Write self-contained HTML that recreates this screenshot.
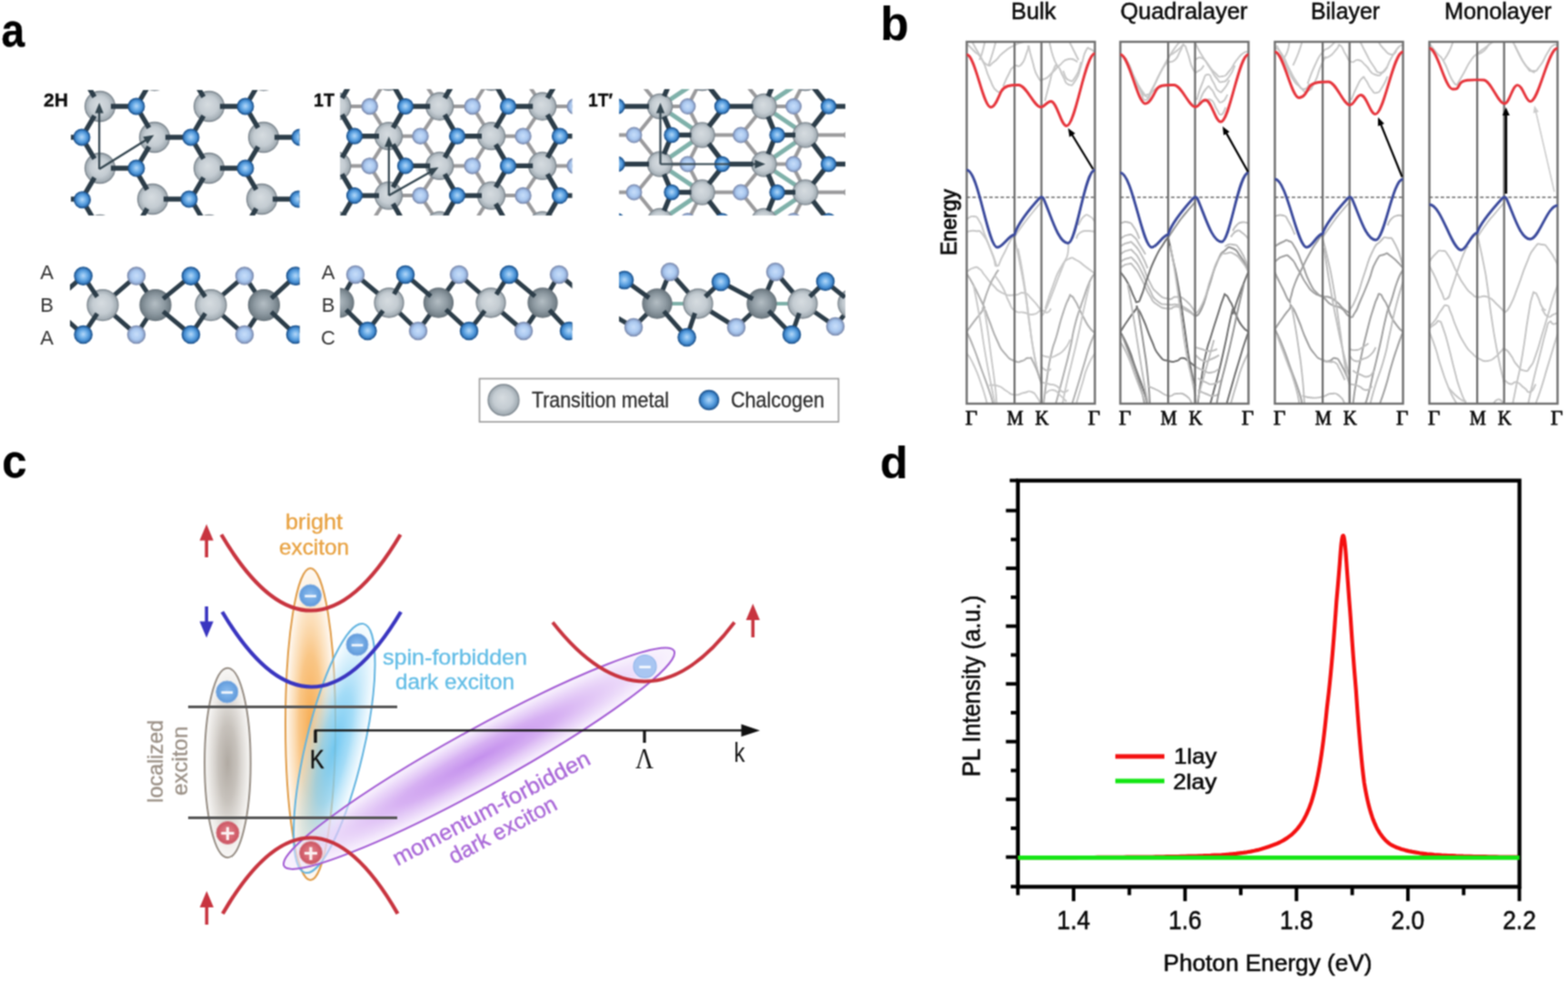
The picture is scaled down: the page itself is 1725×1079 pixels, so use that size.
<!DOCTYPE html>
<html lang="en">
<head>
<meta charset="utf-8">
<title>Figure: TMD crystal structures, band structure, excitons and PL</title>
<style>
html,body{margin:0;padding:0;background:#fff;}
body{width:1725px;height:1079px;overflow:hidden;font-family:"Liberation Sans",sans-serif;}
svg{display:block;}
svg text{font-family:"Liberation Sans",sans-serif;}
svg text.serif{font-family:"Liberation Serif",serif;}
</style>
</head>
<body>
<svg width="1725" height="1079" viewBox="0 0 1725 1079">
<defs>
<filter id="soft" filterUnits="userSpaceOnUse" x="0" y="0" width="1725" height="1079" color-interpolation-filters="sRGB"><feConvolveMatrix order="3" kernelMatrix="0.0625 0.125 0.0625 0.125 0.25 0.125 0.0625 0.125 0.0625" divisor="1" edgeMode="duplicate" preserveAlpha="true"/></filter>
<radialGradient id="gM" cx="50%" cy="50%" r="50%" fx="45%" fy="42%">
<stop offset="0" stop-color="#d6dce0"/><stop offset="0.62" stop-color="#c4ccd2"/><stop offset="0.9" stop-color="#a6b0b7"/><stop offset="1" stop-color="#949ea6"/></radialGradient>
<radialGradient id="gMd" cx="50%" cy="50%" r="50%" fx="48%" fy="45%">
<stop offset="0" stop-color="#b4bec4"/><stop offset="0.6" stop-color="#8e9aa2"/><stop offset="1" stop-color="#6d7a82"/></radialGradient>
<radialGradient id="gD" cx="50%" cy="50%" r="50%" fx="50%" fy="48%">
<stop offset="0" stop-color="#b6d8f9"/><stop offset="0.35" stop-color="#7db8ec"/><stop offset="0.7" stop-color="#4a92d6"/><stop offset="1" stop-color="#245f9e"/></radialGradient>
<radialGradient id="gL" cx="50%" cy="50%" r="50%" fx="50%" fy="48%">
<stop offset="0" stop-color="#c8defa"/><stop offset="0.6" stop-color="#abc9f0"/><stop offset="1" stop-color="#8399c2"/></radialGradient>
<clipPath id="c2h"><rect x="78" y="99" width="251.5" height="138"/></clipPath>
<clipPath id="c1t"><rect x="374" y="98" width="255.5" height="139"/></clipPath>
<clipPath id="c1tp"><rect x="681" y="98" width="249" height="139"/></clipPath>
<clipPath id="s2h"><rect x="77" y="285" width="252.5" height="100"/></clipPath>
<clipPath id="s1t"><rect x="374" y="285" width="255.5" height="100"/></clipPath>
<clipPath id="s1tp"><rect x="681" y="285" width="249" height="100"/></clipPath>
<marker id="arA" viewBox="0 0 10 10" refX="8" refY="5" markerWidth="5" markerHeight="5" orient="auto"><path d="M0 0L10 5L0 10z" fill="#33454f"/></marker>
<clipPath id="cb0"><rect x="1063.5" y="46" width="141" height="398"/></clipPath><clipPath id="cb1"><rect x="1232.5" y="46" width="141" height="398"/></clipPath><clipPath id="cb2"><rect x="1402.5" y="46" width="141" height="398"/></clipPath><clipPath id="cb3"><rect x="1572.5" y="46" width="141" height="398"/></clipPath>
<radialGradient id="gOr" cx="50%" cy="50%" r="50%">
<stop offset="0" stop-color="#f6a84a" stop-opacity="0.95"/><stop offset="0.45" stop-color="#f8b868" stop-opacity="0.8"/><stop offset="0.8" stop-color="#fbd7a8" stop-opacity="0.55"/><stop offset="1" stop-color="#fdeedd" stop-opacity="0.35"/></radialGradient>
<radialGradient id="gCy" cx="50%" cy="50%" r="50%">
<stop offset="0" stop-color="#62c2f0" stop-opacity="0.9"/><stop offset="0.45" stop-color="#85d0f4" stop-opacity="0.75"/><stop offset="0.8" stop-color="#bfe6fa" stop-opacity="0.5"/><stop offset="1" stop-color="#e6f5fd" stop-opacity="0.3"/></radialGradient>
<radialGradient id="gPu" cx="50%" cy="50%" r="50%">
<stop offset="0" stop-color="#c18aec" stop-opacity="0.95"/><stop offset="0.4" stop-color="#cfa2f0" stop-opacity="0.85"/><stop offset="0.75" stop-color="#e4cbf7" stop-opacity="0.7"/><stop offset="1" stop-color="#f3e8fc" stop-opacity="0.5"/></radialGradient>
<radialGradient id="gGr" cx="50%" cy="50%" r="50%">
<stop offset="0" stop-color="#aca59d" stop-opacity="0.95"/><stop offset="0.4" stop-color="#bdb7b0" stop-opacity="0.85"/><stop offset="0.75" stop-color="#dcd8d3" stop-opacity="0.7"/><stop offset="1" stop-color="#f1efec" stop-opacity="0.5"/></radialGradient>
<radialGradient id="gEl" cx="50%" cy="50%" r="50%" fx="50%" fy="45%">
<stop offset="0" stop-color="#8cbcee"/><stop offset="0.7" stop-color="#6ea6e2"/><stop offset="1" stop-color="#5f97d8"/></radialGradient>
<radialGradient id="gHo" cx="50%" cy="50%" r="50%" fx="50%" fy="45%">
<stop offset="0" stop-color="#e08890"/><stop offset="0.7" stop-color="#d4636f"/><stop offset="1" stop-color="#c8525f"/></radialGradient>
</defs>
<g filter="url(#soft)">
<rect x="0" y="0" width="1725" height="1079" fill="#ffffff"/>
<text x="1.4" y="50.6" font-size="51.5" font-weight="bold" fill="#000" stroke="#000" stroke-width="0.3" textLength="25.6" lengthAdjust="spacingAndGlyphs">a</text>
<g clip-path="url(#c2h)">
<circle cx="50" cy="83" r="16.5" fill="url(#gM)" stroke="#808a92" stroke-width="1.3"/><circle cx="170" cy="83" r="16.5" fill="url(#gM)" stroke="#808a92" stroke-width="1.3"/><circle cx="290" cy="83" r="16.5" fill="url(#gM)" stroke="#808a92" stroke-width="1.3"/><circle cx="410" cy="83" r="16.5" fill="url(#gM)" stroke="#808a92" stroke-width="1.3"/><circle cx="-10" cy="117" r="16.5" fill="url(#gM)" stroke="#808a92" stroke-width="1.3"/><circle cx="110" cy="117" r="16.5" fill="url(#gM)" stroke="#808a92" stroke-width="1.3"/><circle cx="230" cy="117" r="16.5" fill="url(#gM)" stroke="#808a92" stroke-width="1.3"/><circle cx="350" cy="117" r="16.5" fill="url(#gM)" stroke="#808a92" stroke-width="1.3"/><circle cx="50" cy="151" r="16.5" fill="url(#gM)" stroke="#808a92" stroke-width="1.3"/><circle cx="170" cy="151" r="16.5" fill="url(#gM)" stroke="#808a92" stroke-width="1.3"/><circle cx="290" cy="151" r="16.5" fill="url(#gM)" stroke="#808a92" stroke-width="1.3"/><circle cx="410" cy="151" r="16.5" fill="url(#gM)" stroke="#808a92" stroke-width="1.3"/><circle cx="-10" cy="185" r="16.5" fill="url(#gM)" stroke="#808a92" stroke-width="1.3"/><circle cx="110" cy="185" r="16.5" fill="url(#gM)" stroke="#808a92" stroke-width="1.3"/><circle cx="230" cy="185" r="16.5" fill="url(#gM)" stroke="#808a92" stroke-width="1.3"/><circle cx="350" cy="185" r="16.5" fill="url(#gM)" stroke="#808a92" stroke-width="1.3"/><circle cx="50" cy="219" r="16.5" fill="url(#gM)" stroke="#808a92" stroke-width="1.3"/><circle cx="168" cy="219" r="16.5" fill="url(#gM)" stroke="#808a92" stroke-width="1.3"/><circle cx="288" cy="219" r="16.5" fill="url(#gM)" stroke="#808a92" stroke-width="1.3"/><circle cx="408" cy="219" r="16.5" fill="url(#gM)" stroke="#808a92" stroke-width="1.3"/><circle cx="-10" cy="253" r="16.5" fill="url(#gM)" stroke="#808a92" stroke-width="1.3"/><circle cx="110" cy="253" r="16.5" fill="url(#gM)" stroke="#808a92" stroke-width="1.3"/><circle cx="230" cy="253" r="16.5" fill="url(#gM)" stroke="#808a92" stroke-width="1.3"/><circle cx="350" cy="253" r="16.5" fill="url(#gM)" stroke="#808a92" stroke-width="1.3"/>
<line x1="90" y1="83" x2="62" y2="83" stroke="#2c3d49" stroke-width="5.3" /><line x1="30" y1="49" x2="43.9" y2="72.7" stroke="#2c3d49" stroke-width="5.3" /><line x1="30" y1="117" x2="43.9" y2="93.3" stroke="#2c3d49" stroke-width="5.3" /><line x1="210" y1="83" x2="182" y2="83" stroke="#2c3d49" stroke-width="5.3" /><line x1="150" y1="49" x2="163.9" y2="72.7" stroke="#2c3d49" stroke-width="5.3" /><line x1="150" y1="117" x2="163.9" y2="93.3" stroke="#2c3d49" stroke-width="5.3" /><line x1="330" y1="83" x2="302" y2="83" stroke="#2c3d49" stroke-width="5.3" /><line x1="270" y1="49" x2="283.9" y2="72.7" stroke="#2c3d49" stroke-width="5.3" /><line x1="270" y1="117" x2="283.9" y2="93.3" stroke="#2c3d49" stroke-width="5.3" /><line x1="450" y1="83" x2="422" y2="83" stroke="#2c3d49" stroke-width="5.3" /><line x1="390" y1="49" x2="403.9" y2="72.7" stroke="#2c3d49" stroke-width="5.3" /><line x1="390" y1="117" x2="403.9" y2="93.3" stroke="#2c3d49" stroke-width="5.3" /><line x1="30" y1="117" x2="2" y2="117" stroke="#2c3d49" stroke-width="5.3" /><line x1="-30" y1="83" x2="-16.1" y2="106.7" stroke="#2c3d49" stroke-width="5.3" /><line x1="-30" y1="151" x2="-16.1" y2="127.3" stroke="#2c3d49" stroke-width="5.3" /><line x1="150" y1="117" x2="122" y2="117" stroke="#2c3d49" stroke-width="5.3" /><line x1="90" y1="83" x2="103.9" y2="106.7" stroke="#2c3d49" stroke-width="5.3" /><line x1="90" y1="151" x2="103.9" y2="127.3" stroke="#2c3d49" stroke-width="5.3" /><line x1="270" y1="117" x2="242" y2="117" stroke="#2c3d49" stroke-width="5.3" /><line x1="210" y1="83" x2="223.9" y2="106.7" stroke="#2c3d49" stroke-width="5.3" /><line x1="210" y1="151" x2="223.9" y2="127.3" stroke="#2c3d49" stroke-width="5.3" /><line x1="390" y1="117" x2="362" y2="117" stroke="#2c3d49" stroke-width="5.3" /><line x1="330" y1="83" x2="343.9" y2="106.7" stroke="#2c3d49" stroke-width="5.3" /><line x1="330" y1="151" x2="343.9" y2="127.3" stroke="#2c3d49" stroke-width="5.3" /><line x1="90" y1="151" x2="62" y2="151" stroke="#2c3d49" stroke-width="5.3" /><line x1="30" y1="117" x2="43.9" y2="140.7" stroke="#2c3d49" stroke-width="5.3" /><line x1="30" y1="185" x2="43.9" y2="161.3" stroke="#2c3d49" stroke-width="5.3" /><line x1="210" y1="151" x2="182" y2="151" stroke="#2c3d49" stroke-width="5.3" /><line x1="150" y1="117" x2="163.9" y2="140.7" stroke="#2c3d49" stroke-width="5.3" /><line x1="150" y1="185" x2="163.9" y2="161.3" stroke="#2c3d49" stroke-width="5.3" /><line x1="330" y1="151" x2="302" y2="151" stroke="#2c3d49" stroke-width="5.3" /><line x1="270" y1="117" x2="283.9" y2="140.7" stroke="#2c3d49" stroke-width="5.3" /><line x1="270" y1="185" x2="283.9" y2="161.3" stroke="#2c3d49" stroke-width="5.3" /><line x1="450" y1="151" x2="422" y2="151" stroke="#2c3d49" stroke-width="5.3" /><line x1="390" y1="117" x2="403.9" y2="140.7" stroke="#2c3d49" stroke-width="5.3" /><line x1="390" y1="185" x2="403.9" y2="161.3" stroke="#2c3d49" stroke-width="5.3" /><line x1="30" y1="185" x2="2" y2="185" stroke="#2c3d49" stroke-width="5.3" /><line x1="-30" y1="151" x2="-16.1" y2="174.7" stroke="#2c3d49" stroke-width="5.3" /><line x1="-30" y1="219" x2="-16.1" y2="195.3" stroke="#2c3d49" stroke-width="5.3" /><line x1="150" y1="185" x2="122" y2="185" stroke="#2c3d49" stroke-width="5.3" /><line x1="90" y1="151" x2="103.9" y2="174.7" stroke="#2c3d49" stroke-width="5.3" /><line x1="90" y1="219" x2="103.9" y2="195.3" stroke="#2c3d49" stroke-width="5.3" /><line x1="270" y1="185" x2="242" y2="185" stroke="#2c3d49" stroke-width="5.3" /><line x1="210" y1="151" x2="223.9" y2="174.7" stroke="#2c3d49" stroke-width="5.3" /><line x1="210" y1="219" x2="223.9" y2="195.3" stroke="#2c3d49" stroke-width="5.3" /><line x1="390" y1="185" x2="362" y2="185" stroke="#2c3d49" stroke-width="5.3" /><line x1="330" y1="151" x2="343.9" y2="174.7" stroke="#2c3d49" stroke-width="5.3" /><line x1="330" y1="219" x2="343.9" y2="195.3" stroke="#2c3d49" stroke-width="5.3" /><line x1="90" y1="219" x2="62" y2="219" stroke="#2c3d49" stroke-width="5.3" /><line x1="30" y1="185" x2="43.9" y2="208.7" stroke="#2c3d49" stroke-width="5.3" /><line x1="30" y1="253" x2="43.9" y2="229.3" stroke="#2c3d49" stroke-width="5.3" /><line x1="208" y1="219" x2="180" y2="219" stroke="#2c3d49" stroke-width="5.3" /><line x1="148" y1="185" x2="161.9" y2="208.7" stroke="#2c3d49" stroke-width="5.3" /><line x1="148" y1="253" x2="161.9" y2="229.3" stroke="#2c3d49" stroke-width="5.3" /><line x1="328" y1="219" x2="300" y2="219" stroke="#2c3d49" stroke-width="5.3" /><line x1="268" y1="185" x2="281.9" y2="208.7" stroke="#2c3d49" stroke-width="5.3" /><line x1="268" y1="253" x2="281.9" y2="229.3" stroke="#2c3d49" stroke-width="5.3" /><line x1="448" y1="219" x2="420" y2="219" stroke="#2c3d49" stroke-width="5.3" /><line x1="388" y1="185" x2="401.9" y2="208.7" stroke="#2c3d49" stroke-width="5.3" /><line x1="388" y1="253" x2="401.9" y2="229.3" stroke="#2c3d49" stroke-width="5.3" /><line x1="30" y1="253" x2="2" y2="253" stroke="#2c3d49" stroke-width="5.3" /><line x1="-30" y1="219" x2="-16.1" y2="242.7" stroke="#2c3d49" stroke-width="5.3" /><line x1="-30" y1="287" x2="-16.1" y2="263.3" stroke="#2c3d49" stroke-width="5.3" /><line x1="150" y1="253" x2="122" y2="253" stroke="#2c3d49" stroke-width="5.3" /><line x1="90" y1="219" x2="103.9" y2="242.7" stroke="#2c3d49" stroke-width="5.3" /><line x1="90" y1="287" x2="103.9" y2="263.3" stroke="#2c3d49" stroke-width="5.3" /><line x1="270" y1="253" x2="242" y2="253" stroke="#2c3d49" stroke-width="5.3" /><line x1="210" y1="219" x2="223.9" y2="242.7" stroke="#2c3d49" stroke-width="5.3" /><line x1="210" y1="287" x2="223.9" y2="263.3" stroke="#2c3d49" stroke-width="5.3" /><line x1="390" y1="253" x2="362" y2="253" stroke="#2c3d49" stroke-width="5.3" /><line x1="330" y1="219" x2="343.9" y2="242.7" stroke="#2c3d49" stroke-width="5.3" /><line x1="330" y1="287" x2="343.9" y2="263.3" stroke="#2c3d49" stroke-width="5.3" />
<circle cx="90" cy="83" r="8.9" fill="url(#gD)" stroke="#1f5690" stroke-width="1.2"/><circle cx="210" cy="83" r="8.9" fill="url(#gD)" stroke="#1f5690" stroke-width="1.2"/><circle cx="330" cy="83" r="8.9" fill="url(#gD)" stroke="#1f5690" stroke-width="1.2"/><circle cx="450" cy="83" r="8.9" fill="url(#gD)" stroke="#1f5690" stroke-width="1.2"/><circle cx="30" cy="117" r="8.9" fill="url(#gD)" stroke="#1f5690" stroke-width="1.2"/><circle cx="150" cy="117" r="8.9" fill="url(#gD)" stroke="#1f5690" stroke-width="1.2"/><circle cx="270" cy="117" r="8.9" fill="url(#gD)" stroke="#1f5690" stroke-width="1.2"/><circle cx="390" cy="117" r="8.9" fill="url(#gD)" stroke="#1f5690" stroke-width="1.2"/><circle cx="90" cy="151" r="8.9" fill="url(#gD)" stroke="#1f5690" stroke-width="1.2"/><circle cx="210" cy="151" r="8.9" fill="url(#gD)" stroke="#1f5690" stroke-width="1.2"/><circle cx="330" cy="151" r="8.9" fill="url(#gD)" stroke="#1f5690" stroke-width="1.2"/><circle cx="450" cy="151" r="8.9" fill="url(#gD)" stroke="#1f5690" stroke-width="1.2"/><circle cx="30" cy="185" r="8.9" fill="url(#gD)" stroke="#1f5690" stroke-width="1.2"/><circle cx="150" cy="185" r="8.9" fill="url(#gD)" stroke="#1f5690" stroke-width="1.2"/><circle cx="270" cy="185" r="8.9" fill="url(#gD)" stroke="#1f5690" stroke-width="1.2"/><circle cx="390" cy="185" r="8.9" fill="url(#gD)" stroke="#1f5690" stroke-width="1.2"/><circle cx="90.5" cy="219.8" r="8.9" fill="url(#gD)" stroke="#1f5690" stroke-width="1.2"/><circle cx="208" cy="219" r="8.9" fill="url(#gD)" stroke="#1f5690" stroke-width="1.2"/><circle cx="328" cy="219" r="8.9" fill="url(#gD)" stroke="#1f5690" stroke-width="1.2"/><circle cx="448" cy="219" r="8.9" fill="url(#gD)" stroke="#1f5690" stroke-width="1.2"/><circle cx="30" cy="253" r="8.9" fill="url(#gD)" stroke="#1f5690" stroke-width="1.2"/><circle cx="150" cy="253" r="8.9" fill="url(#gD)" stroke="#1f5690" stroke-width="1.2"/><circle cx="270" cy="253" r="8.9" fill="url(#gD)" stroke="#1f5690" stroke-width="1.2"/><circle cx="390" cy="253" r="8.9" fill="url(#gD)" stroke="#1f5690" stroke-width="1.2"/>
<line x1="109.2" y1="186" x2="109.2" y2="122.5" stroke="#33454f" stroke-width="2.2" /><path d="M109.2 113L113.9 124.5L104.5 124.5z" fill="#33454f"/>
<line x1="109.2" y1="186" x2="161.4" y2="153.5" stroke="#33454f" stroke-width="2.2" /><path d="M169.5 148.5L162.2 158.6L157.3 150.6z" fill="#33454f"/>
</g>
<text x="48" y="117" font-size="20" font-weight="bold" fill="#0a0a0a" stroke="#0a0a0a" stroke-width="0.3" textLength="27" lengthAdjust="spacingAndGlyphs">2H</text>
<g clip-path="url(#c1t)">
<line x1="349.5" y1="84.3" x2="314.5" y2="84.3" stroke="#9a9a9c" stroke-width="4" /><line x1="349.5" y1="84.3" x2="371" y2="51.6" stroke="#9a9a9c" stroke-width="4" /><line x1="349.5" y1="84.3" x2="371" y2="117" stroke="#9a9a9c" stroke-width="4" /><line x1="462.5" y1="84.3" x2="427.5" y2="84.3" stroke="#9a9a9c" stroke-width="4" /><line x1="462.5" y1="84.3" x2="484" y2="51.6" stroke="#9a9a9c" stroke-width="4" /><line x1="462.5" y1="84.3" x2="484" y2="117" stroke="#9a9a9c" stroke-width="4" /><line x1="575.5" y1="84.3" x2="540.5" y2="84.3" stroke="#9a9a9c" stroke-width="4" /><line x1="575.5" y1="84.3" x2="597" y2="51.6" stroke="#9a9a9c" stroke-width="4" /><line x1="575.5" y1="84.3" x2="597" y2="117" stroke="#9a9a9c" stroke-width="4" /><line x1="688.5" y1="84.3" x2="653.5" y2="84.3" stroke="#9a9a9c" stroke-width="4" /><line x1="688.5" y1="84.3" x2="710" y2="51.6" stroke="#9a9a9c" stroke-width="4" /><line x1="688.5" y1="84.3" x2="710" y2="117" stroke="#9a9a9c" stroke-width="4" /><line x1="801.5" y1="84.3" x2="766.5" y2="84.3" stroke="#9a9a9c" stroke-width="4" /><line x1="801.5" y1="84.3" x2="823" y2="51.6" stroke="#9a9a9c" stroke-width="4" /><line x1="801.5" y1="84.3" x2="823" y2="117" stroke="#9a9a9c" stroke-width="4" /><line x1="293.7" y1="117" x2="257.7" y2="117" stroke="#9a9a9c" stroke-width="4" /><line x1="293.7" y1="117" x2="314.2" y2="84.3" stroke="#9a9a9c" stroke-width="4" /><line x1="293.7" y1="117" x2="314.2" y2="149.7" stroke="#9a9a9c" stroke-width="4" /><line x1="406.7" y1="117" x2="370.7" y2="117" stroke="#9a9a9c" stroke-width="4" /><line x1="406.7" y1="117" x2="427.2" y2="84.3" stroke="#9a9a9c" stroke-width="4" /><line x1="406.7" y1="117" x2="427.2" y2="149.7" stroke="#9a9a9c" stroke-width="4" /><line x1="519.7" y1="117" x2="483.7" y2="117" stroke="#9a9a9c" stroke-width="4" /><line x1="519.7" y1="117" x2="540.2" y2="84.3" stroke="#9a9a9c" stroke-width="4" /><line x1="519.7" y1="117" x2="540.2" y2="149.7" stroke="#9a9a9c" stroke-width="4" /><line x1="632.7" y1="117" x2="596.7" y2="117" stroke="#9a9a9c" stroke-width="4" /><line x1="632.7" y1="117" x2="653.2" y2="84.3" stroke="#9a9a9c" stroke-width="4" /><line x1="632.7" y1="117" x2="653.2" y2="149.7" stroke="#9a9a9c" stroke-width="4" /><line x1="745.7" y1="117" x2="709.7" y2="117" stroke="#9a9a9c" stroke-width="4" /><line x1="745.7" y1="117" x2="766.2" y2="84.3" stroke="#9a9a9c" stroke-width="4" /><line x1="745.7" y1="117" x2="766.2" y2="149.7" stroke="#9a9a9c" stroke-width="4" /><line x1="349.5" y1="149.7" x2="314.5" y2="149.7" stroke="#9a9a9c" stroke-width="4" /><line x1="349.5" y1="149.7" x2="371" y2="117" stroke="#9a9a9c" stroke-width="4" /><line x1="349.5" y1="149.7" x2="371" y2="182.4" stroke="#9a9a9c" stroke-width="4" /><line x1="462.5" y1="149.7" x2="427.5" y2="149.7" stroke="#9a9a9c" stroke-width="4" /><line x1="462.5" y1="149.7" x2="484" y2="117" stroke="#9a9a9c" stroke-width="4" /><line x1="462.5" y1="149.7" x2="484" y2="182.4" stroke="#9a9a9c" stroke-width="4" /><line x1="575.5" y1="149.7" x2="540.5" y2="149.7" stroke="#9a9a9c" stroke-width="4" /><line x1="575.5" y1="149.7" x2="597" y2="117" stroke="#9a9a9c" stroke-width="4" /><line x1="575.5" y1="149.7" x2="597" y2="182.4" stroke="#9a9a9c" stroke-width="4" /><line x1="688.5" y1="149.7" x2="653.5" y2="149.7" stroke="#9a9a9c" stroke-width="4" /><line x1="688.5" y1="149.7" x2="710" y2="117" stroke="#9a9a9c" stroke-width="4" /><line x1="688.5" y1="149.7" x2="710" y2="182.4" stroke="#9a9a9c" stroke-width="4" /><line x1="801.5" y1="149.7" x2="766.5" y2="149.7" stroke="#9a9a9c" stroke-width="4" /><line x1="801.5" y1="149.7" x2="823" y2="117" stroke="#9a9a9c" stroke-width="4" /><line x1="801.5" y1="149.7" x2="823" y2="182.4" stroke="#9a9a9c" stroke-width="4" /><line x1="293.7" y1="182.4" x2="257.7" y2="182.4" stroke="#9a9a9c" stroke-width="4" /><line x1="293.7" y1="182.4" x2="314.2" y2="149.7" stroke="#9a9a9c" stroke-width="4" /><line x1="293.7" y1="182.4" x2="314.2" y2="215.1" stroke="#9a9a9c" stroke-width="4" /><line x1="406.7" y1="182.4" x2="370.7" y2="182.4" stroke="#9a9a9c" stroke-width="4" /><line x1="406.7" y1="182.4" x2="427.2" y2="149.7" stroke="#9a9a9c" stroke-width="4" /><line x1="406.7" y1="182.4" x2="427.2" y2="215.1" stroke="#9a9a9c" stroke-width="4" /><line x1="519.7" y1="182.4" x2="483.7" y2="182.4" stroke="#9a9a9c" stroke-width="4" /><line x1="519.7" y1="182.4" x2="540.2" y2="149.7" stroke="#9a9a9c" stroke-width="4" /><line x1="519.7" y1="182.4" x2="540.2" y2="215.1" stroke="#9a9a9c" stroke-width="4" /><line x1="632.7" y1="182.4" x2="596.7" y2="182.4" stroke="#9a9a9c" stroke-width="4" /><line x1="632.7" y1="182.4" x2="653.2" y2="149.7" stroke="#9a9a9c" stroke-width="4" /><line x1="632.7" y1="182.4" x2="653.2" y2="215.1" stroke="#9a9a9c" stroke-width="4" /><line x1="745.7" y1="182.4" x2="709.7" y2="182.4" stroke="#9a9a9c" stroke-width="4" /><line x1="745.7" y1="182.4" x2="766.2" y2="149.7" stroke="#9a9a9c" stroke-width="4" /><line x1="745.7" y1="182.4" x2="766.2" y2="215.1" stroke="#9a9a9c" stroke-width="4" /><line x1="349.5" y1="215.1" x2="314.5" y2="215.1" stroke="#9a9a9c" stroke-width="4" /><line x1="349.5" y1="215.1" x2="371" y2="182.4" stroke="#9a9a9c" stroke-width="4" /><line x1="349.5" y1="215.1" x2="371" y2="247.8" stroke="#9a9a9c" stroke-width="4" /><line x1="462.5" y1="215.1" x2="427.5" y2="215.1" stroke="#9a9a9c" stroke-width="4" /><line x1="462.5" y1="215.1" x2="484" y2="182.4" stroke="#9a9a9c" stroke-width="4" /><line x1="462.5" y1="215.1" x2="484" y2="247.8" stroke="#9a9a9c" stroke-width="4" /><line x1="575.5" y1="215.1" x2="540.5" y2="215.1" stroke="#9a9a9c" stroke-width="4" /><line x1="575.5" y1="215.1" x2="597" y2="182.4" stroke="#9a9a9c" stroke-width="4" /><line x1="575.5" y1="215.1" x2="597" y2="247.8" stroke="#9a9a9c" stroke-width="4" /><line x1="688.5" y1="215.1" x2="653.5" y2="215.1" stroke="#9a9a9c" stroke-width="4" /><line x1="688.5" y1="215.1" x2="710" y2="182.4" stroke="#9a9a9c" stroke-width="4" /><line x1="688.5" y1="215.1" x2="710" y2="247.8" stroke="#9a9a9c" stroke-width="4" /><line x1="801.5" y1="215.1" x2="766.5" y2="215.1" stroke="#9a9a9c" stroke-width="4" /><line x1="801.5" y1="215.1" x2="823" y2="182.4" stroke="#9a9a9c" stroke-width="4" /><line x1="801.5" y1="215.1" x2="823" y2="247.8" stroke="#9a9a9c" stroke-width="4" /><line x1="293.7" y1="247.8" x2="257.7" y2="247.8" stroke="#9a9a9c" stroke-width="4" /><line x1="293.7" y1="247.8" x2="314.2" y2="215.1" stroke="#9a9a9c" stroke-width="4" /><line x1="293.7" y1="247.8" x2="314.2" y2="280.5" stroke="#9a9a9c" stroke-width="4" /><line x1="406.7" y1="247.8" x2="370.7" y2="247.8" stroke="#9a9a9c" stroke-width="4" /><line x1="406.7" y1="247.8" x2="427.2" y2="215.1" stroke="#9a9a9c" stroke-width="4" /><line x1="406.7" y1="247.8" x2="427.2" y2="280.5" stroke="#9a9a9c" stroke-width="4" /><line x1="519.7" y1="247.8" x2="483.7" y2="247.8" stroke="#9a9a9c" stroke-width="4" /><line x1="519.7" y1="247.8" x2="540.2" y2="215.1" stroke="#9a9a9c" stroke-width="4" /><line x1="519.7" y1="247.8" x2="540.2" y2="280.5" stroke="#9a9a9c" stroke-width="4" /><line x1="632.7" y1="247.8" x2="596.7" y2="247.8" stroke="#9a9a9c" stroke-width="4" /><line x1="632.7" y1="247.8" x2="653.2" y2="215.1" stroke="#9a9a9c" stroke-width="4" /><line x1="632.7" y1="247.8" x2="653.2" y2="280.5" stroke="#9a9a9c" stroke-width="4" /><line x1="745.7" y1="247.8" x2="709.7" y2="247.8" stroke="#9a9a9c" stroke-width="4" /><line x1="745.7" y1="247.8" x2="766.2" y2="215.1" stroke="#9a9a9c" stroke-width="4" /><line x1="745.7" y1="247.8" x2="766.2" y2="280.5" stroke="#9a9a9c" stroke-width="4" />
<circle cx="349.5" cy="84.3" r="8.6" fill="url(#gL)" stroke="#7f8fb2" stroke-width="1.3"/><circle cx="462.5" cy="84.3" r="8.6" fill="url(#gL)" stroke="#7f8fb2" stroke-width="1.3"/><circle cx="575.5" cy="84.3" r="8.6" fill="url(#gL)" stroke="#7f8fb2" stroke-width="1.3"/><circle cx="688.5" cy="84.3" r="8.6" fill="url(#gL)" stroke="#7f8fb2" stroke-width="1.3"/><circle cx="801.5" cy="84.3" r="8.6" fill="url(#gL)" stroke="#7f8fb2" stroke-width="1.3"/><circle cx="293.7" cy="117" r="8.6" fill="url(#gL)" stroke="#7f8fb2" stroke-width="1.3"/><circle cx="406.7" cy="117" r="8.6" fill="url(#gL)" stroke="#7f8fb2" stroke-width="1.3"/><circle cx="519.7" cy="117" r="8.6" fill="url(#gL)" stroke="#7f8fb2" stroke-width="1.3"/><circle cx="632.7" cy="117" r="8.6" fill="url(#gL)" stroke="#7f8fb2" stroke-width="1.3"/><circle cx="745.7" cy="117" r="8.6" fill="url(#gL)" stroke="#7f8fb2" stroke-width="1.3"/><circle cx="349.5" cy="149.7" r="8.6" fill="url(#gL)" stroke="#7f8fb2" stroke-width="1.3"/><circle cx="462.5" cy="149.7" r="8.6" fill="url(#gL)" stroke="#7f8fb2" stroke-width="1.3"/><circle cx="575.5" cy="149.7" r="8.6" fill="url(#gL)" stroke="#7f8fb2" stroke-width="1.3"/><circle cx="688.5" cy="149.7" r="8.6" fill="url(#gL)" stroke="#7f8fb2" stroke-width="1.3"/><circle cx="801.5" cy="149.7" r="8.6" fill="url(#gL)" stroke="#7f8fb2" stroke-width="1.3"/><circle cx="293.7" cy="182.4" r="8.6" fill="url(#gL)" stroke="#7f8fb2" stroke-width="1.3"/><circle cx="406.7" cy="182.4" r="8.6" fill="url(#gL)" stroke="#7f8fb2" stroke-width="1.3"/><circle cx="519.7" cy="182.4" r="8.6" fill="url(#gL)" stroke="#7f8fb2" stroke-width="1.3"/><circle cx="632.7" cy="182.4" r="8.6" fill="url(#gL)" stroke="#7f8fb2" stroke-width="1.3"/><circle cx="745.7" cy="182.4" r="8.6" fill="url(#gL)" stroke="#7f8fb2" stroke-width="1.3"/><circle cx="349.5" cy="215.1" r="8.6" fill="url(#gL)" stroke="#7f8fb2" stroke-width="1.3"/><circle cx="462.5" cy="215.1" r="8.6" fill="url(#gL)" stroke="#7f8fb2" stroke-width="1.3"/><circle cx="575.5" cy="215.1" r="8.6" fill="url(#gL)" stroke="#7f8fb2" stroke-width="1.3"/><circle cx="688.5" cy="215.1" r="8.6" fill="url(#gL)" stroke="#7f8fb2" stroke-width="1.3"/><circle cx="801.5" cy="215.1" r="8.6" fill="url(#gL)" stroke="#7f8fb2" stroke-width="1.3"/><circle cx="293.7" cy="247.8" r="8.6" fill="url(#gL)" stroke="#7f8fb2" stroke-width="1.3"/><circle cx="406.7" cy="247.8" r="8.6" fill="url(#gL)" stroke="#7f8fb2" stroke-width="1.3"/><circle cx="519.7" cy="247.8" r="8.6" fill="url(#gL)" stroke="#7f8fb2" stroke-width="1.3"/><circle cx="632.7" cy="247.8" r="8.6" fill="url(#gL)" stroke="#7f8fb2" stroke-width="1.3"/><circle cx="745.7" cy="247.8" r="8.6" fill="url(#gL)" stroke="#7f8fb2" stroke-width="1.3"/>
<circle cx="314.5" cy="84.3" r="15" fill="url(#gM)" stroke="#808a92" stroke-width="1.3"/><circle cx="427.5" cy="84.3" r="15" fill="url(#gM)" stroke="#808a92" stroke-width="1.3"/><circle cx="540.5" cy="84.3" r="15" fill="url(#gM)" stroke="#808a92" stroke-width="1.3"/><circle cx="653.5" cy="84.3" r="15" fill="url(#gM)" stroke="#808a92" stroke-width="1.3"/><circle cx="766.5" cy="84.3" r="15" fill="url(#gM)" stroke="#808a92" stroke-width="1.3"/><circle cx="257.7" cy="117" r="15" fill="url(#gM)" stroke="#808a92" stroke-width="1.3"/><circle cx="370.7" cy="117" r="15" fill="url(#gM)" stroke="#808a92" stroke-width="1.3"/><circle cx="483.7" cy="117" r="15" fill="url(#gM)" stroke="#808a92" stroke-width="1.3"/><circle cx="596.7" cy="117" r="15" fill="url(#gM)" stroke="#808a92" stroke-width="1.3"/><circle cx="709.7" cy="117" r="15" fill="url(#gM)" stroke="#808a92" stroke-width="1.3"/><circle cx="314.5" cy="149.7" r="15" fill="url(#gM)" stroke="#808a92" stroke-width="1.3"/><circle cx="427.5" cy="149.7" r="15" fill="url(#gM)" stroke="#808a92" stroke-width="1.3"/><circle cx="540.5" cy="149.7" r="15" fill="url(#gM)" stroke="#808a92" stroke-width="1.3"/><circle cx="653.5" cy="149.7" r="15" fill="url(#gM)" stroke="#808a92" stroke-width="1.3"/><circle cx="766.5" cy="149.7" r="15" fill="url(#gM)" stroke="#808a92" stroke-width="1.3"/><circle cx="257.7" cy="182.4" r="15" fill="url(#gM)" stroke="#808a92" stroke-width="1.3"/><circle cx="370.7" cy="182.4" r="15" fill="url(#gM)" stroke="#808a92" stroke-width="1.3"/><circle cx="483.7" cy="182.4" r="15" fill="url(#gM)" stroke="#808a92" stroke-width="1.3"/><circle cx="596.7" cy="182.4" r="15" fill="url(#gM)" stroke="#808a92" stroke-width="1.3"/><circle cx="709.7" cy="182.4" r="15" fill="url(#gM)" stroke="#808a92" stroke-width="1.3"/><circle cx="314.5" cy="215.1" r="15" fill="url(#gM)" stroke="#808a92" stroke-width="1.3"/><circle cx="427.5" cy="215.1" r="15" fill="url(#gM)" stroke="#808a92" stroke-width="1.3"/><circle cx="540.5" cy="215.1" r="15" fill="url(#gM)" stroke="#808a92" stroke-width="1.3"/><circle cx="653.5" cy="215.1" r="15" fill="url(#gM)" stroke="#808a92" stroke-width="1.3"/><circle cx="766.5" cy="215.1" r="15" fill="url(#gM)" stroke="#808a92" stroke-width="1.3"/><circle cx="257.7" cy="247.8" r="15" fill="url(#gM)" stroke="#808a92" stroke-width="1.3"/><circle cx="370.7" cy="247.8" r="15" fill="url(#gM)" stroke="#808a92" stroke-width="1.3"/><circle cx="483.7" cy="247.8" r="15" fill="url(#gM)" stroke="#808a92" stroke-width="1.3"/><circle cx="596.7" cy="247.8" r="15" fill="url(#gM)" stroke="#808a92" stroke-width="1.3"/><circle cx="709.7" cy="247.8" r="15" fill="url(#gM)" stroke="#808a92" stroke-width="1.3"/>
<line x1="390" y1="84.3" x2="417" y2="84.3" stroke="#2c3d49" stroke-width="5.4" /><line x1="390" y1="84.3" x2="376.3" y2="60.7" stroke="#2c3d49" stroke-width="5.4" /><line x1="390" y1="84.3" x2="376.3" y2="107.9" stroke="#2c3d49" stroke-width="5.4" /><line x1="503" y1="84.3" x2="530" y2="84.3" stroke="#2c3d49" stroke-width="5.4" /><line x1="503" y1="84.3" x2="489.3" y2="60.7" stroke="#2c3d49" stroke-width="5.4" /><line x1="503" y1="84.3" x2="489.3" y2="107.9" stroke="#2c3d49" stroke-width="5.4" /><line x1="616" y1="84.3" x2="643" y2="84.3" stroke="#2c3d49" stroke-width="5.4" /><line x1="616" y1="84.3" x2="602.3" y2="60.7" stroke="#2c3d49" stroke-width="5.4" /><line x1="616" y1="84.3" x2="602.3" y2="107.9" stroke="#2c3d49" stroke-width="5.4" /><line x1="729" y1="84.3" x2="756" y2="84.3" stroke="#2c3d49" stroke-width="5.4" /><line x1="729" y1="84.3" x2="715.3" y2="60.7" stroke="#2c3d49" stroke-width="5.4" /><line x1="729" y1="84.3" x2="715.3" y2="107.9" stroke="#2c3d49" stroke-width="5.4" /><line x1="842" y1="84.3" x2="869" y2="84.3" stroke="#2c3d49" stroke-width="5.4" /><line x1="842" y1="84.3" x2="828.3" y2="60.7" stroke="#2c3d49" stroke-width="5.4" /><line x1="842" y1="84.3" x2="828.3" y2="107.9" stroke="#2c3d49" stroke-width="5.4" /><line x1="333" y1="117" x2="360.2" y2="117" stroke="#2c3d49" stroke-width="5.4" /><line x1="333" y1="117" x2="319.4" y2="93.4" stroke="#2c3d49" stroke-width="5.4" /><line x1="333" y1="117" x2="319.4" y2="140.6" stroke="#2c3d49" stroke-width="5.4" /><line x1="446" y1="117" x2="473.2" y2="117" stroke="#2c3d49" stroke-width="5.4" /><line x1="446" y1="117" x2="432.4" y2="93.4" stroke="#2c3d49" stroke-width="5.4" /><line x1="446" y1="117" x2="432.4" y2="140.6" stroke="#2c3d49" stroke-width="5.4" /><line x1="559" y1="117" x2="586.2" y2="117" stroke="#2c3d49" stroke-width="5.4" /><line x1="559" y1="117" x2="545.4" y2="93.4" stroke="#2c3d49" stroke-width="5.4" /><line x1="559" y1="117" x2="545.4" y2="140.6" stroke="#2c3d49" stroke-width="5.4" /><line x1="672" y1="117" x2="699.2" y2="117" stroke="#2c3d49" stroke-width="5.4" /><line x1="672" y1="117" x2="658.4" y2="93.4" stroke="#2c3d49" stroke-width="5.4" /><line x1="672" y1="117" x2="658.4" y2="140.6" stroke="#2c3d49" stroke-width="5.4" /><line x1="785" y1="117" x2="812.2" y2="117" stroke="#2c3d49" stroke-width="5.4" /><line x1="785" y1="117" x2="771.4" y2="93.4" stroke="#2c3d49" stroke-width="5.4" /><line x1="785" y1="117" x2="771.4" y2="140.6" stroke="#2c3d49" stroke-width="5.4" /><line x1="390" y1="149.7" x2="417" y2="149.7" stroke="#2c3d49" stroke-width="5.4" /><line x1="390" y1="149.7" x2="376.3" y2="126.1" stroke="#2c3d49" stroke-width="5.4" /><line x1="390" y1="149.7" x2="376.3" y2="173.3" stroke="#2c3d49" stroke-width="5.4" /><line x1="503" y1="149.7" x2="530" y2="149.7" stroke="#2c3d49" stroke-width="5.4" /><line x1="503" y1="149.7" x2="489.3" y2="126.1" stroke="#2c3d49" stroke-width="5.4" /><line x1="503" y1="149.7" x2="489.3" y2="173.3" stroke="#2c3d49" stroke-width="5.4" /><line x1="616" y1="149.7" x2="643" y2="149.7" stroke="#2c3d49" stroke-width="5.4" /><line x1="616" y1="149.7" x2="602.3" y2="126.1" stroke="#2c3d49" stroke-width="5.4" /><line x1="616" y1="149.7" x2="602.3" y2="173.3" stroke="#2c3d49" stroke-width="5.4" /><line x1="729" y1="149.7" x2="756" y2="149.7" stroke="#2c3d49" stroke-width="5.4" /><line x1="729" y1="149.7" x2="715.3" y2="126.1" stroke="#2c3d49" stroke-width="5.4" /><line x1="729" y1="149.7" x2="715.3" y2="173.3" stroke="#2c3d49" stroke-width="5.4" /><line x1="842" y1="149.7" x2="869" y2="149.7" stroke="#2c3d49" stroke-width="5.4" /><line x1="842" y1="149.7" x2="828.3" y2="126.1" stroke="#2c3d49" stroke-width="5.4" /><line x1="842" y1="149.7" x2="828.3" y2="173.3" stroke="#2c3d49" stroke-width="5.4" /><line x1="333" y1="182.4" x2="360.2" y2="182.4" stroke="#2c3d49" stroke-width="5.4" /><line x1="333" y1="182.4" x2="319.4" y2="158.8" stroke="#2c3d49" stroke-width="5.4" /><line x1="333" y1="182.4" x2="319.4" y2="206" stroke="#2c3d49" stroke-width="5.4" /><line x1="446" y1="182.4" x2="473.2" y2="182.4" stroke="#2c3d49" stroke-width="5.4" /><line x1="446" y1="182.4" x2="432.4" y2="158.8" stroke="#2c3d49" stroke-width="5.4" /><line x1="446" y1="182.4" x2="432.4" y2="206" stroke="#2c3d49" stroke-width="5.4" /><line x1="559" y1="182.4" x2="586.2" y2="182.4" stroke="#2c3d49" stroke-width="5.4" /><line x1="559" y1="182.4" x2="545.4" y2="158.8" stroke="#2c3d49" stroke-width="5.4" /><line x1="559" y1="182.4" x2="545.4" y2="206" stroke="#2c3d49" stroke-width="5.4" /><line x1="672" y1="182.4" x2="699.2" y2="182.4" stroke="#2c3d49" stroke-width="5.4" /><line x1="672" y1="182.4" x2="658.4" y2="158.8" stroke="#2c3d49" stroke-width="5.4" /><line x1="672" y1="182.4" x2="658.4" y2="206" stroke="#2c3d49" stroke-width="5.4" /><line x1="785" y1="182.4" x2="812.2" y2="182.4" stroke="#2c3d49" stroke-width="5.4" /><line x1="785" y1="182.4" x2="771.4" y2="158.8" stroke="#2c3d49" stroke-width="5.4" /><line x1="785" y1="182.4" x2="771.4" y2="206" stroke="#2c3d49" stroke-width="5.4" /><line x1="390" y1="215.1" x2="417" y2="215.1" stroke="#2c3d49" stroke-width="5.4" /><line x1="390" y1="215.1" x2="376.3" y2="191.5" stroke="#2c3d49" stroke-width="5.4" /><line x1="390" y1="215.1" x2="376.3" y2="238.7" stroke="#2c3d49" stroke-width="5.4" /><line x1="503" y1="215.1" x2="530" y2="215.1" stroke="#2c3d49" stroke-width="5.4" /><line x1="503" y1="215.1" x2="489.3" y2="191.5" stroke="#2c3d49" stroke-width="5.4" /><line x1="503" y1="215.1" x2="489.3" y2="238.7" stroke="#2c3d49" stroke-width="5.4" /><line x1="616" y1="215.1" x2="643" y2="215.1" stroke="#2c3d49" stroke-width="5.4" /><line x1="616" y1="215.1" x2="602.3" y2="191.5" stroke="#2c3d49" stroke-width="5.4" /><line x1="616" y1="215.1" x2="602.3" y2="238.7" stroke="#2c3d49" stroke-width="5.4" /><line x1="729" y1="215.1" x2="756" y2="215.1" stroke="#2c3d49" stroke-width="5.4" /><line x1="729" y1="215.1" x2="715.3" y2="191.5" stroke="#2c3d49" stroke-width="5.4" /><line x1="729" y1="215.1" x2="715.3" y2="238.7" stroke="#2c3d49" stroke-width="5.4" /><line x1="842" y1="215.1" x2="869" y2="215.1" stroke="#2c3d49" stroke-width="5.4" /><line x1="842" y1="215.1" x2="828.3" y2="191.5" stroke="#2c3d49" stroke-width="5.4" /><line x1="842" y1="215.1" x2="828.3" y2="238.7" stroke="#2c3d49" stroke-width="5.4" /><line x1="333" y1="247.8" x2="360.2" y2="247.8" stroke="#2c3d49" stroke-width="5.4" /><line x1="333" y1="247.8" x2="319.4" y2="224.2" stroke="#2c3d49" stroke-width="5.4" /><line x1="333" y1="247.8" x2="319.4" y2="271.4" stroke="#2c3d49" stroke-width="5.4" /><line x1="446" y1="247.8" x2="473.2" y2="247.8" stroke="#2c3d49" stroke-width="5.4" /><line x1="446" y1="247.8" x2="432.4" y2="224.2" stroke="#2c3d49" stroke-width="5.4" /><line x1="446" y1="247.8" x2="432.4" y2="271.4" stroke="#2c3d49" stroke-width="5.4" /><line x1="559" y1="247.8" x2="586.2" y2="247.8" stroke="#2c3d49" stroke-width="5.4" /><line x1="559" y1="247.8" x2="545.4" y2="224.2" stroke="#2c3d49" stroke-width="5.4" /><line x1="559" y1="247.8" x2="545.4" y2="271.4" stroke="#2c3d49" stroke-width="5.4" /><line x1="672" y1="247.8" x2="699.2" y2="247.8" stroke="#2c3d49" stroke-width="5.4" /><line x1="672" y1="247.8" x2="658.4" y2="224.2" stroke="#2c3d49" stroke-width="5.4" /><line x1="672" y1="247.8" x2="658.4" y2="271.4" stroke="#2c3d49" stroke-width="5.4" /><line x1="785" y1="247.8" x2="812.2" y2="247.8" stroke="#2c3d49" stroke-width="5.4" /><line x1="785" y1="247.8" x2="771.4" y2="224.2" stroke="#2c3d49" stroke-width="5.4" /><line x1="785" y1="247.8" x2="771.4" y2="271.4" stroke="#2c3d49" stroke-width="5.4" />
<circle cx="390" cy="84.3" r="8.5" fill="url(#gD)" stroke="#1f5690" stroke-width="1.2"/><circle cx="503" cy="84.3" r="8.5" fill="url(#gD)" stroke="#1f5690" stroke-width="1.2"/><circle cx="616" cy="84.3" r="8.5" fill="url(#gD)" stroke="#1f5690" stroke-width="1.2"/><circle cx="729" cy="84.3" r="8.5" fill="url(#gD)" stroke="#1f5690" stroke-width="1.2"/><circle cx="842" cy="84.3" r="8.5" fill="url(#gD)" stroke="#1f5690" stroke-width="1.2"/><circle cx="333" cy="117" r="8.5" fill="url(#gD)" stroke="#1f5690" stroke-width="1.2"/><circle cx="446" cy="117" r="8.5" fill="url(#gD)" stroke="#1f5690" stroke-width="1.2"/><circle cx="559" cy="117" r="8.5" fill="url(#gD)" stroke="#1f5690" stroke-width="1.2"/><circle cx="672" cy="117" r="8.5" fill="url(#gD)" stroke="#1f5690" stroke-width="1.2"/><circle cx="785" cy="117" r="8.5" fill="url(#gD)" stroke="#1f5690" stroke-width="1.2"/><circle cx="390" cy="149.7" r="8.5" fill="url(#gD)" stroke="#1f5690" stroke-width="1.2"/><circle cx="503" cy="149.7" r="8.5" fill="url(#gD)" stroke="#1f5690" stroke-width="1.2"/><circle cx="616" cy="149.7" r="8.5" fill="url(#gD)" stroke="#1f5690" stroke-width="1.2"/><circle cx="729" cy="149.7" r="8.5" fill="url(#gD)" stroke="#1f5690" stroke-width="1.2"/><circle cx="842" cy="149.7" r="8.5" fill="url(#gD)" stroke="#1f5690" stroke-width="1.2"/><circle cx="333" cy="182.4" r="8.5" fill="url(#gD)" stroke="#1f5690" stroke-width="1.2"/><circle cx="446" cy="182.4" r="8.5" fill="url(#gD)" stroke="#1f5690" stroke-width="1.2"/><circle cx="559" cy="182.4" r="8.5" fill="url(#gD)" stroke="#1f5690" stroke-width="1.2"/><circle cx="672" cy="182.4" r="8.5" fill="url(#gD)" stroke="#1f5690" stroke-width="1.2"/><circle cx="785" cy="182.4" r="8.5" fill="url(#gD)" stroke="#1f5690" stroke-width="1.2"/><circle cx="390" cy="215.1" r="8.5" fill="url(#gD)" stroke="#1f5690" stroke-width="1.2"/><circle cx="503" cy="215.1" r="8.5" fill="url(#gD)" stroke="#1f5690" stroke-width="1.2"/><circle cx="616" cy="215.1" r="8.5" fill="url(#gD)" stroke="#1f5690" stroke-width="1.2"/><circle cx="729" cy="215.1" r="8.5" fill="url(#gD)" stroke="#1f5690" stroke-width="1.2"/><circle cx="842" cy="215.1" r="8.5" fill="url(#gD)" stroke="#1f5690" stroke-width="1.2"/><circle cx="333" cy="247.8" r="8.5" fill="url(#gD)" stroke="#1f5690" stroke-width="1.2"/><circle cx="446" cy="247.8" r="8.5" fill="url(#gD)" stroke="#1f5690" stroke-width="1.2"/><circle cx="559" cy="247.8" r="8.5" fill="url(#gD)" stroke="#1f5690" stroke-width="1.2"/><circle cx="672" cy="247.8" r="8.5" fill="url(#gD)" stroke="#1f5690" stroke-width="1.2"/><circle cx="785" cy="247.8" r="8.5" fill="url(#gD)" stroke="#1f5690" stroke-width="1.2"/>
<line x1="427.8" y1="215" x2="427.8" y2="159.5" stroke="#33454f" stroke-width="2.2" /><path d="M427.8 150L432.5 161.5L423.1 161.5z" fill="#33454f"/>
<line x1="427.8" y1="215" x2="474.2" y2="188.7" stroke="#33454f" stroke-width="2.2" /><path d="M482.5 184L474.8 193.8L470.2 185.6z" fill="#33454f"/>
</g>
<text x="345" y="117" font-size="20" font-weight="bold" fill="#0a0a0a" stroke="#0a0a0a" stroke-width="0.3" textLength="23" lengthAdjust="spacingAndGlyphs">1T</text>
<g clip-path="url(#c1tp)">
<line x1="642" y1="54" x2="611.5" y2="54" stroke="#9a9a9c" stroke-width="4" /><line x1="642" y1="54" x2="658" y2="86" stroke="#9a9a9c" stroke-width="4" /><line x1="756.5" y1="54" x2="726" y2="54" stroke="#9a9a9c" stroke-width="4" /><line x1="756.5" y1="54" x2="772.5" y2="86" stroke="#9a9a9c" stroke-width="4" /><line x1="871" y1="54" x2="840.5" y2="54" stroke="#9a9a9c" stroke-width="4" /><line x1="871" y1="54" x2="887" y2="86" stroke="#9a9a9c" stroke-width="4" /><line x1="985.5" y1="54" x2="955" y2="54" stroke="#9a9a9c" stroke-width="4" /><line x1="985.5" y1="54" x2="1001.5" y2="86" stroke="#9a9a9c" stroke-width="4" /><line x1="642" y1="117" x2="611.5" y2="117" stroke="#9a9a9c" stroke-width="4" /><line x1="642" y1="117" x2="658" y2="86" stroke="#9a9a9c" stroke-width="4" /><line x1="642" y1="117" x2="658" y2="148.5" stroke="#9a9a9c" stroke-width="4" /><line x1="756.5" y1="117" x2="726" y2="117" stroke="#9a9a9c" stroke-width="4" /><line x1="756.5" y1="117" x2="772.5" y2="86" stroke="#9a9a9c" stroke-width="4" /><line x1="756.5" y1="117" x2="772.5" y2="148.5" stroke="#9a9a9c" stroke-width="4" /><line x1="871" y1="117" x2="840.5" y2="117" stroke="#9a9a9c" stroke-width="4" /><line x1="871" y1="117" x2="887" y2="86" stroke="#9a9a9c" stroke-width="4" /><line x1="871" y1="117" x2="887" y2="148.5" stroke="#9a9a9c" stroke-width="4" /><line x1="985.5" y1="117" x2="955" y2="117" stroke="#9a9a9c" stroke-width="4" /><line x1="985.5" y1="117" x2="1001.5" y2="86" stroke="#9a9a9c" stroke-width="4" /><line x1="985.5" y1="117" x2="1001.5" y2="148.5" stroke="#9a9a9c" stroke-width="4" /><line x1="642" y1="180.5" x2="611.5" y2="180.5" stroke="#9a9a9c" stroke-width="4" /><line x1="642" y1="180.5" x2="658" y2="148.5" stroke="#9a9a9c" stroke-width="4" /><line x1="642" y1="180.5" x2="658" y2="211.5" stroke="#9a9a9c" stroke-width="4" /><line x1="756.5" y1="180.5" x2="726" y2="180.5" stroke="#9a9a9c" stroke-width="4" /><line x1="756.5" y1="180.5" x2="772.5" y2="148.5" stroke="#9a9a9c" stroke-width="4" /><line x1="756.5" y1="180.5" x2="772.5" y2="211.5" stroke="#9a9a9c" stroke-width="4" /><line x1="871" y1="180.5" x2="840.5" y2="180.5" stroke="#9a9a9c" stroke-width="4" /><line x1="871" y1="180.5" x2="887" y2="148.5" stroke="#9a9a9c" stroke-width="4" /><line x1="871" y1="180.5" x2="887" y2="211.5" stroke="#9a9a9c" stroke-width="4" /><line x1="985.5" y1="180.5" x2="955" y2="180.5" stroke="#9a9a9c" stroke-width="4" /><line x1="985.5" y1="180.5" x2="1001.5" y2="148.5" stroke="#9a9a9c" stroke-width="4" /><line x1="985.5" y1="180.5" x2="1001.5" y2="211.5" stroke="#9a9a9c" stroke-width="4" /><line x1="642" y1="243" x2="611.5" y2="243" stroke="#9a9a9c" stroke-width="4" /><line x1="642" y1="243" x2="658" y2="211.5" stroke="#9a9a9c" stroke-width="4" /><line x1="642" y1="243" x2="658" y2="274" stroke="#9a9a9c" stroke-width="4" /><line x1="756.5" y1="243" x2="726" y2="243" stroke="#9a9a9c" stroke-width="4" /><line x1="756.5" y1="243" x2="772.5" y2="211.5" stroke="#9a9a9c" stroke-width="4" /><line x1="756.5" y1="243" x2="772.5" y2="274" stroke="#9a9a9c" stroke-width="4" /><line x1="871" y1="243" x2="840.5" y2="243" stroke="#9a9a9c" stroke-width="4" /><line x1="871" y1="243" x2="887" y2="211.5" stroke="#9a9a9c" stroke-width="4" /><line x1="871" y1="243" x2="887" y2="274" stroke="#9a9a9c" stroke-width="4" /><line x1="985.5" y1="243" x2="955" y2="243" stroke="#9a9a9c" stroke-width="4" /><line x1="985.5" y1="243" x2="1001.5" y2="211.5" stroke="#9a9a9c" stroke-width="4" /><line x1="985.5" y1="243" x2="1001.5" y2="274" stroke="#9a9a9c" stroke-width="4" /><line x1="700.5" y1="86" x2="658" y2="86" stroke="#9a9a9c" stroke-width="4" /><line x1="700.5" y1="86" x2="726" y2="54" stroke="#9a9a9c" stroke-width="4" /><line x1="700.5" y1="86" x2="726" y2="117" stroke="#9a9a9c" stroke-width="4" /><line x1="815" y1="86" x2="772.5" y2="86" stroke="#9a9a9c" stroke-width="4" /><line x1="815" y1="86" x2="840.5" y2="54" stroke="#9a9a9c" stroke-width="4" /><line x1="815" y1="86" x2="840.5" y2="117" stroke="#9a9a9c" stroke-width="4" /><line x1="929.5" y1="86" x2="887" y2="86" stroke="#9a9a9c" stroke-width="4" /><line x1="929.5" y1="86" x2="955" y2="54" stroke="#9a9a9c" stroke-width="4" /><line x1="929.5" y1="86" x2="955" y2="117" stroke="#9a9a9c" stroke-width="4" /><line x1="1044" y1="86" x2="1001.5" y2="86" stroke="#9a9a9c" stroke-width="4" /><line x1="1044" y1="86" x2="1069.5" y2="54" stroke="#9a9a9c" stroke-width="4" /><line x1="1044" y1="86" x2="1069.5" y2="117" stroke="#9a9a9c" stroke-width="4" /><line x1="700.5" y1="148.5" x2="658" y2="148.5" stroke="#9a9a9c" stroke-width="4" /><line x1="700.5" y1="148.5" x2="726" y2="117" stroke="#9a9a9c" stroke-width="4" /><line x1="700.5" y1="148.5" x2="726" y2="180.5" stroke="#9a9a9c" stroke-width="4" /><line x1="815" y1="148.5" x2="772.5" y2="148.5" stroke="#9a9a9c" stroke-width="4" /><line x1="815" y1="148.5" x2="840.5" y2="117" stroke="#9a9a9c" stroke-width="4" /><line x1="815" y1="148.5" x2="840.5" y2="180.5" stroke="#9a9a9c" stroke-width="4" /><line x1="929.5" y1="148.5" x2="887" y2="148.5" stroke="#9a9a9c" stroke-width="4" /><line x1="929.5" y1="148.5" x2="955" y2="117" stroke="#9a9a9c" stroke-width="4" /><line x1="929.5" y1="148.5" x2="955" y2="180.5" stroke="#9a9a9c" stroke-width="4" /><line x1="1044" y1="148.5" x2="1001.5" y2="148.5" stroke="#9a9a9c" stroke-width="4" /><line x1="1044" y1="148.5" x2="1069.5" y2="117" stroke="#9a9a9c" stroke-width="4" /><line x1="1044" y1="148.5" x2="1069.5" y2="180.5" stroke="#9a9a9c" stroke-width="4" /><line x1="700.5" y1="211.5" x2="658" y2="211.5" stroke="#9a9a9c" stroke-width="4" /><line x1="700.5" y1="211.5" x2="726" y2="180.5" stroke="#9a9a9c" stroke-width="4" /><line x1="700.5" y1="211.5" x2="726" y2="243" stroke="#9a9a9c" stroke-width="4" /><line x1="815" y1="211.5" x2="772.5" y2="211.5" stroke="#9a9a9c" stroke-width="4" /><line x1="815" y1="211.5" x2="840.5" y2="180.5" stroke="#9a9a9c" stroke-width="4" /><line x1="815" y1="211.5" x2="840.5" y2="243" stroke="#9a9a9c" stroke-width="4" /><line x1="929.5" y1="211.5" x2="887" y2="211.5" stroke="#9a9a9c" stroke-width="4" /><line x1="929.5" y1="211.5" x2="955" y2="180.5" stroke="#9a9a9c" stroke-width="4" /><line x1="929.5" y1="211.5" x2="955" y2="243" stroke="#9a9a9c" stroke-width="4" /><line x1="1044" y1="211.5" x2="1001.5" y2="211.5" stroke="#9a9a9c" stroke-width="4" /><line x1="1044" y1="211.5" x2="1069.5" y2="180.5" stroke="#9a9a9c" stroke-width="4" /><line x1="1044" y1="211.5" x2="1069.5" y2="243" stroke="#9a9a9c" stroke-width="4" /><line x1="700.5" y1="274" x2="658" y2="274" stroke="#9a9a9c" stroke-width="4" /><line x1="700.5" y1="274" x2="726" y2="243" stroke="#9a9a9c" stroke-width="4" /><line x1="815" y1="274" x2="772.5" y2="274" stroke="#9a9a9c" stroke-width="4" /><line x1="815" y1="274" x2="840.5" y2="243" stroke="#9a9a9c" stroke-width="4" /><line x1="929.5" y1="274" x2="887" y2="274" stroke="#9a9a9c" stroke-width="4" /><line x1="929.5" y1="274" x2="955" y2="243" stroke="#9a9a9c" stroke-width="4" /><line x1="1044" y1="274" x2="1001.5" y2="274" stroke="#9a9a9c" stroke-width="4" /><line x1="1044" y1="274" x2="1069.5" y2="243" stroke="#9a9a9c" stroke-width="4" />
<line x1="611.5" y1="54" x2="658" y2="86" stroke="#7fb1aa" stroke-width="5" /><line x1="726" y1="54" x2="772.5" y2="86" stroke="#7fb1aa" stroke-width="5" /><line x1="840.5" y1="54" x2="887" y2="86" stroke="#7fb1aa" stroke-width="5" /><line x1="955" y1="54" x2="1001.5" y2="86" stroke="#7fb1aa" stroke-width="5" /><line x1="611.5" y1="117" x2="658" y2="86" stroke="#7fb1aa" stroke-width="5" /><line x1="611.5" y1="117" x2="658" y2="148.5" stroke="#7fb1aa" stroke-width="5" /><line x1="726" y1="117" x2="772.5" y2="86" stroke="#7fb1aa" stroke-width="5" /><line x1="726" y1="117" x2="772.5" y2="148.5" stroke="#7fb1aa" stroke-width="5" /><line x1="840.5" y1="117" x2="887" y2="86" stroke="#7fb1aa" stroke-width="5" /><line x1="840.5" y1="117" x2="887" y2="148.5" stroke="#7fb1aa" stroke-width="5" /><line x1="955" y1="117" x2="1001.5" y2="86" stroke="#7fb1aa" stroke-width="5" /><line x1="955" y1="117" x2="1001.5" y2="148.5" stroke="#7fb1aa" stroke-width="5" /><line x1="611.5" y1="180.5" x2="658" y2="148.5" stroke="#7fb1aa" stroke-width="5" /><line x1="611.5" y1="180.5" x2="658" y2="211.5" stroke="#7fb1aa" stroke-width="5" /><line x1="726" y1="180.5" x2="772.5" y2="148.5" stroke="#7fb1aa" stroke-width="5" /><line x1="726" y1="180.5" x2="772.5" y2="211.5" stroke="#7fb1aa" stroke-width="5" /><line x1="840.5" y1="180.5" x2="887" y2="148.5" stroke="#7fb1aa" stroke-width="5" /><line x1="840.5" y1="180.5" x2="887" y2="211.5" stroke="#7fb1aa" stroke-width="5" /><line x1="955" y1="180.5" x2="1001.5" y2="148.5" stroke="#7fb1aa" stroke-width="5" /><line x1="955" y1="180.5" x2="1001.5" y2="211.5" stroke="#7fb1aa" stroke-width="5" /><line x1="611.5" y1="243" x2="658" y2="211.5" stroke="#7fb1aa" stroke-width="5" /><line x1="611.5" y1="243" x2="658" y2="274" stroke="#7fb1aa" stroke-width="5" /><line x1="726" y1="243" x2="772.5" y2="211.5" stroke="#7fb1aa" stroke-width="5" /><line x1="726" y1="243" x2="772.5" y2="274" stroke="#7fb1aa" stroke-width="5" /><line x1="840.5" y1="243" x2="887" y2="211.5" stroke="#7fb1aa" stroke-width="5" /><line x1="840.5" y1="243" x2="887" y2="274" stroke="#7fb1aa" stroke-width="5" /><line x1="955" y1="243" x2="1001.5" y2="211.5" stroke="#7fb1aa" stroke-width="5" /><line x1="955" y1="243" x2="1001.5" y2="274" stroke="#7fb1aa" stroke-width="5" />
<circle cx="642" cy="54" r="8.3" fill="url(#gL)" stroke="#7f8fb2" stroke-width="1.3"/><circle cx="756.5" cy="54" r="8.3" fill="url(#gL)" stroke="#7f8fb2" stroke-width="1.3"/><circle cx="873" cy="54" r="8.3" fill="url(#gL)" stroke="#7f8fb2" stroke-width="1.3"/><circle cx="985.5" cy="54" r="8.3" fill="url(#gL)" stroke="#7f8fb2" stroke-width="1.3"/><circle cx="642" cy="117" r="8.3" fill="url(#gL)" stroke="#7f8fb2" stroke-width="1.3"/><circle cx="756.5" cy="117" r="8.3" fill="url(#gL)" stroke="#7f8fb2" stroke-width="1.3"/><circle cx="873" cy="117" r="8.3" fill="url(#gL)" stroke="#7f8fb2" stroke-width="1.3"/><circle cx="985.5" cy="117" r="8.3" fill="url(#gL)" stroke="#7f8fb2" stroke-width="1.3"/><circle cx="642" cy="180.5" r="8.3" fill="url(#gL)" stroke="#7f8fb2" stroke-width="1.3"/><circle cx="756.5" cy="180.5" r="8.3" fill="url(#gL)" stroke="#7f8fb2" stroke-width="1.3"/><circle cx="873" cy="180.5" r="8.3" fill="url(#gL)" stroke="#7f8fb2" stroke-width="1.3"/><circle cx="985.5" cy="180.5" r="8.3" fill="url(#gL)" stroke="#7f8fb2" stroke-width="1.3"/><circle cx="642" cy="243" r="8.3" fill="url(#gL)" stroke="#7f8fb2" stroke-width="1.3"/><circle cx="756.5" cy="243" r="8.3" fill="url(#gL)" stroke="#7f8fb2" stroke-width="1.3"/><circle cx="873" cy="243" r="8.3" fill="url(#gL)" stroke="#7f8fb2" stroke-width="1.3"/><circle cx="985.5" cy="243" r="8.3" fill="url(#gL)" stroke="#7f8fb2" stroke-width="1.3"/><circle cx="697.5" cy="86" r="8.3" fill="url(#gL)" stroke="#7f8fb2" stroke-width="1.3"/><circle cx="815" cy="86" r="8.3" fill="url(#gL)" stroke="#7f8fb2" stroke-width="1.3"/><circle cx="953.5" cy="86" r="8.3" fill="url(#gL)" stroke="#7f8fb2" stroke-width="1.3"/><circle cx="1044" cy="86" r="8.3" fill="url(#gL)" stroke="#7f8fb2" stroke-width="1.3"/><circle cx="697.5" cy="148.5" r="8.3" fill="url(#gL)" stroke="#7f8fb2" stroke-width="1.3"/><circle cx="815" cy="148.5" r="8.3" fill="url(#gL)" stroke="#7f8fb2" stroke-width="1.3"/><circle cx="953.5" cy="148.5" r="8.3" fill="url(#gL)" stroke="#7f8fb2" stroke-width="1.3"/><circle cx="1044" cy="148.5" r="8.3" fill="url(#gL)" stroke="#7f8fb2" stroke-width="1.3"/><circle cx="697.5" cy="211.5" r="8.3" fill="url(#gL)" stroke="#7f8fb2" stroke-width="1.3"/><circle cx="815" cy="211.5" r="8.3" fill="url(#gL)" stroke="#7f8fb2" stroke-width="1.3"/><circle cx="953.5" cy="211.5" r="8.3" fill="url(#gL)" stroke="#7f8fb2" stroke-width="1.3"/><circle cx="1044" cy="211.5" r="8.3" fill="url(#gL)" stroke="#7f8fb2" stroke-width="1.3"/><circle cx="697.5" cy="274" r="8.3" fill="url(#gL)" stroke="#7f8fb2" stroke-width="1.3"/><circle cx="815" cy="274" r="8.3" fill="url(#gL)" stroke="#7f8fb2" stroke-width="1.3"/><circle cx="953.5" cy="274" r="8.3" fill="url(#gL)" stroke="#7f8fb2" stroke-width="1.3"/><circle cx="1044" cy="274" r="8.3" fill="url(#gL)" stroke="#7f8fb2" stroke-width="1.3"/>
<circle cx="611.5" cy="54" r="13.6" fill="url(#gM)" stroke="#808a92" stroke-width="1.3"/><circle cx="726" cy="54" r="13.6" fill="url(#gM)" stroke="#808a92" stroke-width="1.3"/><circle cx="840.5" cy="54" r="13.6" fill="url(#gM)" stroke="#808a92" stroke-width="1.3"/><circle cx="955" cy="54" r="13.6" fill="url(#gM)" stroke="#808a92" stroke-width="1.3"/><circle cx="611.5" cy="117" r="13.6" fill="url(#gM)" stroke="#808a92" stroke-width="1.3"/><circle cx="726" cy="117" r="13.6" fill="url(#gM)" stroke="#808a92" stroke-width="1.3"/><circle cx="840.5" cy="117" r="13.6" fill="url(#gM)" stroke="#808a92" stroke-width="1.3"/><circle cx="955" cy="117" r="13.6" fill="url(#gM)" stroke="#808a92" stroke-width="1.3"/><circle cx="611.5" cy="180.5" r="13.6" fill="url(#gM)" stroke="#808a92" stroke-width="1.3"/><circle cx="726" cy="180.5" r="13.6" fill="url(#gM)" stroke="#808a92" stroke-width="1.3"/><circle cx="840.5" cy="180.5" r="13.6" fill="url(#gM)" stroke="#808a92" stroke-width="1.3"/><circle cx="955" cy="180.5" r="13.6" fill="url(#gM)" stroke="#808a92" stroke-width="1.3"/><circle cx="611.5" cy="243" r="13.6" fill="url(#gM)" stroke="#808a92" stroke-width="1.3"/><circle cx="726" cy="243" r="13.6" fill="url(#gM)" stroke="#808a92" stroke-width="1.3"/><circle cx="840.5" cy="243" r="13.6" fill="url(#gM)" stroke="#808a92" stroke-width="1.3"/><circle cx="955" cy="243" r="13.6" fill="url(#gM)" stroke="#808a92" stroke-width="1.3"/><circle cx="658" cy="86" r="13.6" fill="url(#gM)" stroke="#808a92" stroke-width="1.3"/><circle cx="772.5" cy="86" r="13.6" fill="url(#gM)" stroke="#808a92" stroke-width="1.3"/><circle cx="886" cy="86" r="13.6" fill="url(#gM)" stroke="#808a92" stroke-width="1.3"/><circle cx="1001.5" cy="86" r="13.6" fill="url(#gM)" stroke="#808a92" stroke-width="1.3"/><circle cx="658" cy="148.5" r="13.6" fill="url(#gM)" stroke="#808a92" stroke-width="1.3"/><circle cx="772.5" cy="148.5" r="13.6" fill="url(#gM)" stroke="#808a92" stroke-width="1.3"/><circle cx="886" cy="148.5" r="13.6" fill="url(#gM)" stroke="#808a92" stroke-width="1.3"/><circle cx="1001.5" cy="148.5" r="13.6" fill="url(#gM)" stroke="#808a92" stroke-width="1.3"/><circle cx="658" cy="211.5" r="13.6" fill="url(#gM)" stroke="#808a92" stroke-width="1.3"/><circle cx="772.5" cy="211.5" r="13.6" fill="url(#gM)" stroke="#808a92" stroke-width="1.3"/><circle cx="886" cy="211.5" r="13.6" fill="url(#gM)" stroke="#808a92" stroke-width="1.3"/><circle cx="1001.5" cy="211.5" r="13.6" fill="url(#gM)" stroke="#808a92" stroke-width="1.3"/><circle cx="658" cy="274" r="13.6" fill="url(#gM)" stroke="#808a92" stroke-width="1.3"/><circle cx="772.5" cy="274" r="13.6" fill="url(#gM)" stroke="#808a92" stroke-width="1.3"/><circle cx="886" cy="274" r="13.6" fill="url(#gM)" stroke="#808a92" stroke-width="1.3"/><circle cx="1001.5" cy="274" r="13.6" fill="url(#gM)" stroke="#808a92" stroke-width="1.3"/>
<line x1="568" y1="54" x2="599.5" y2="54" stroke="#2c3d49" stroke-width="5.4" /><line x1="568" y1="54" x2="550.8" y2="76.5" stroke="#2c3d49" stroke-width="5.4" /><line x1="682.5" y1="54" x2="714" y2="54" stroke="#2c3d49" stroke-width="5.4" /><line x1="682.5" y1="54" x2="665.3" y2="76.5" stroke="#2c3d49" stroke-width="5.4" /><line x1="797" y1="54" x2="828.5" y2="54" stroke="#2c3d49" stroke-width="5.4" /><line x1="797" y1="54" x2="779.8" y2="76.5" stroke="#2c3d49" stroke-width="5.4" /><line x1="911.5" y1="54" x2="943" y2="54" stroke="#2c3d49" stroke-width="5.4" /><line x1="911.5" y1="54" x2="894.3" y2="76.5" stroke="#2c3d49" stroke-width="5.4" /><line x1="568" y1="117" x2="599.5" y2="117" stroke="#2c3d49" stroke-width="5.4" /><line x1="568" y1="117" x2="550.9" y2="95.4" stroke="#2c3d49" stroke-width="5.4" /><line x1="568" y1="117" x2="550.9" y2="139" stroke="#2c3d49" stroke-width="5.4" /><line x1="682.5" y1="117" x2="714" y2="117" stroke="#2c3d49" stroke-width="5.4" /><line x1="682.5" y1="117" x2="665.4" y2="95.4" stroke="#2c3d49" stroke-width="5.4" /><line x1="682.5" y1="117" x2="665.4" y2="139" stroke="#2c3d49" stroke-width="5.4" /><line x1="797" y1="117" x2="828.5" y2="117" stroke="#2c3d49" stroke-width="5.4" /><line x1="797" y1="117" x2="779.9" y2="95.4" stroke="#2c3d49" stroke-width="5.4" /><line x1="797" y1="117" x2="779.9" y2="139" stroke="#2c3d49" stroke-width="5.4" /><line x1="911.5" y1="117" x2="943" y2="117" stroke="#2c3d49" stroke-width="5.4" /><line x1="911.5" y1="117" x2="894.4" y2="95.4" stroke="#2c3d49" stroke-width="5.4" /><line x1="911.5" y1="117" x2="894.4" y2="139" stroke="#2c3d49" stroke-width="5.4" /><line x1="568" y1="180.5" x2="599.5" y2="180.5" stroke="#2c3d49" stroke-width="5.4" /><line x1="568" y1="180.5" x2="550.8" y2="158" stroke="#2c3d49" stroke-width="5.4" /><line x1="568" y1="180.5" x2="550.9" y2="202.1" stroke="#2c3d49" stroke-width="5.4" /><line x1="682.5" y1="180.5" x2="714" y2="180.5" stroke="#2c3d49" stroke-width="5.4" /><line x1="682.5" y1="180.5" x2="665.3" y2="158" stroke="#2c3d49" stroke-width="5.4" /><line x1="682.5" y1="180.5" x2="665.4" y2="202.1" stroke="#2c3d49" stroke-width="5.4" /><line x1="797" y1="180.5" x2="828.5" y2="180.5" stroke="#2c3d49" stroke-width="5.4" /><line x1="797" y1="180.5" x2="779.8" y2="158" stroke="#2c3d49" stroke-width="5.4" /><line x1="797" y1="180.5" x2="779.9" y2="202.1" stroke="#2c3d49" stroke-width="5.4" /><line x1="911.5" y1="180.5" x2="943" y2="180.5" stroke="#2c3d49" stroke-width="5.4" /><line x1="911.5" y1="180.5" x2="894.3" y2="158" stroke="#2c3d49" stroke-width="5.4" /><line x1="911.5" y1="180.5" x2="894.4" y2="202.1" stroke="#2c3d49" stroke-width="5.4" /><line x1="568" y1="243" x2="599.5" y2="243" stroke="#2c3d49" stroke-width="5.4" /><line x1="568" y1="243" x2="550.9" y2="221" stroke="#2c3d49" stroke-width="5.4" /><line x1="568" y1="243" x2="550.9" y2="264.6" stroke="#2c3d49" stroke-width="5.4" /><line x1="682.5" y1="243" x2="714" y2="243" stroke="#2c3d49" stroke-width="5.4" /><line x1="682.5" y1="243" x2="665.4" y2="221" stroke="#2c3d49" stroke-width="5.4" /><line x1="682.5" y1="243" x2="665.4" y2="264.6" stroke="#2c3d49" stroke-width="5.4" /><line x1="797" y1="243" x2="828.5" y2="243" stroke="#2c3d49" stroke-width="5.4" /><line x1="797" y1="243" x2="779.9" y2="221" stroke="#2c3d49" stroke-width="5.4" /><line x1="797" y1="243" x2="779.9" y2="264.6" stroke="#2c3d49" stroke-width="5.4" /><line x1="911.5" y1="243" x2="943" y2="243" stroke="#2c3d49" stroke-width="5.4" /><line x1="911.5" y1="243" x2="894.4" y2="221" stroke="#2c3d49" stroke-width="5.4" /><line x1="911.5" y1="243" x2="894.4" y2="264.6" stroke="#2c3d49" stroke-width="5.4" /><line x1="624.5" y1="86" x2="646" y2="86" stroke="#2c3d49" stroke-width="5.4" /><line x1="624.5" y1="86" x2="616" y2="65.1" stroke="#2c3d49" stroke-width="5.4" /><line x1="624.5" y1="86" x2="616.1" y2="105.9" stroke="#2c3d49" stroke-width="5.4" /><line x1="739" y1="86" x2="760.5" y2="86" stroke="#2c3d49" stroke-width="5.4" /><line x1="739" y1="86" x2="730.5" y2="65.1" stroke="#2c3d49" stroke-width="5.4" /><line x1="739" y1="86" x2="730.6" y2="105.9" stroke="#2c3d49" stroke-width="5.4" /><line x1="853.5" y1="86" x2="875" y2="86" stroke="#2c3d49" stroke-width="5.4" /><line x1="853.5" y1="86" x2="845" y2="65.1" stroke="#2c3d49" stroke-width="5.4" /><line x1="853.5" y1="86" x2="845.1" y2="105.9" stroke="#2c3d49" stroke-width="5.4" /><line x1="968" y1="86" x2="989.5" y2="86" stroke="#2c3d49" stroke-width="5.4" /><line x1="968" y1="86" x2="959.5" y2="65.1" stroke="#2c3d49" stroke-width="5.4" /><line x1="968" y1="86" x2="959.6" y2="105.9" stroke="#2c3d49" stroke-width="5.4" /><line x1="624.5" y1="148.5" x2="646" y2="148.5" stroke="#2c3d49" stroke-width="5.4" /><line x1="624.5" y1="148.5" x2="616.1" y2="128.1" stroke="#2c3d49" stroke-width="5.4" /><line x1="624.5" y1="148.5" x2="616" y2="169.4" stroke="#2c3d49" stroke-width="5.4" /><line x1="739" y1="148.5" x2="760.5" y2="148.5" stroke="#2c3d49" stroke-width="5.4" /><line x1="739" y1="148.5" x2="730.6" y2="128.1" stroke="#2c3d49" stroke-width="5.4" /><line x1="739" y1="148.5" x2="730.5" y2="169.4" stroke="#2c3d49" stroke-width="5.4" /><line x1="853.5" y1="148.5" x2="875" y2="148.5" stroke="#2c3d49" stroke-width="5.4" /><line x1="853.5" y1="148.5" x2="845.1" y2="128.1" stroke="#2c3d49" stroke-width="5.4" /><line x1="853.5" y1="148.5" x2="845" y2="169.4" stroke="#2c3d49" stroke-width="5.4" /><line x1="968" y1="148.5" x2="989.5" y2="148.5" stroke="#2c3d49" stroke-width="5.4" /><line x1="968" y1="148.5" x2="959.6" y2="128.1" stroke="#2c3d49" stroke-width="5.4" /><line x1="968" y1="148.5" x2="959.5" y2="169.4" stroke="#2c3d49" stroke-width="5.4" /><line x1="624.5" y1="211.5" x2="646" y2="211.5" stroke="#2c3d49" stroke-width="5.4" /><line x1="624.5" y1="211.5" x2="616.1" y2="191.6" stroke="#2c3d49" stroke-width="5.4" /><line x1="624.5" y1="211.5" x2="616.1" y2="231.9" stroke="#2c3d49" stroke-width="5.4" /><line x1="739" y1="211.5" x2="760.5" y2="211.5" stroke="#2c3d49" stroke-width="5.4" /><line x1="739" y1="211.5" x2="730.6" y2="191.6" stroke="#2c3d49" stroke-width="5.4" /><line x1="739" y1="211.5" x2="730.6" y2="231.9" stroke="#2c3d49" stroke-width="5.4" /><line x1="853.5" y1="211.5" x2="875" y2="211.5" stroke="#2c3d49" stroke-width="5.4" /><line x1="853.5" y1="211.5" x2="845.1" y2="191.6" stroke="#2c3d49" stroke-width="5.4" /><line x1="853.5" y1="211.5" x2="845.1" y2="231.9" stroke="#2c3d49" stroke-width="5.4" /><line x1="968" y1="211.5" x2="989.5" y2="211.5" stroke="#2c3d49" stroke-width="5.4" /><line x1="968" y1="211.5" x2="959.6" y2="191.6" stroke="#2c3d49" stroke-width="5.4" /><line x1="968" y1="211.5" x2="959.6" y2="231.9" stroke="#2c3d49" stroke-width="5.4" /><line x1="624.5" y1="274" x2="646" y2="274" stroke="#2c3d49" stroke-width="5.4" /><line x1="624.5" y1="274" x2="616.1" y2="254.1" stroke="#2c3d49" stroke-width="5.4" /><line x1="739" y1="274" x2="760.5" y2="274" stroke="#2c3d49" stroke-width="5.4" /><line x1="739" y1="274" x2="730.6" y2="254.1" stroke="#2c3d49" stroke-width="5.4" /><line x1="853.5" y1="274" x2="875" y2="274" stroke="#2c3d49" stroke-width="5.4" /><line x1="853.5" y1="274" x2="845.1" y2="254.1" stroke="#2c3d49" stroke-width="5.4" /><line x1="968" y1="274" x2="989.5" y2="274" stroke="#2c3d49" stroke-width="5.4" /><line x1="968" y1="274" x2="959.6" y2="254.1" stroke="#2c3d49" stroke-width="5.4" />
<circle cx="568" cy="54" r="8.1" fill="url(#gD)" stroke="#1f5690" stroke-width="1.2"/><circle cx="679" cy="54" r="8.1" fill="url(#gD)" stroke="#1f5690" stroke-width="1.2"/><circle cx="794.5" cy="54" r="8.1" fill="url(#gD)" stroke="#1f5690" stroke-width="1.2"/><circle cx="911.5" cy="54" r="8.1" fill="url(#gD)" stroke="#1f5690" stroke-width="1.2"/><circle cx="568" cy="117" r="8.1" fill="url(#gD)" stroke="#1f5690" stroke-width="1.2"/><circle cx="679" cy="117" r="8.1" fill="url(#gD)" stroke="#1f5690" stroke-width="1.2"/><circle cx="794.5" cy="117" r="8.1" fill="url(#gD)" stroke="#1f5690" stroke-width="1.2"/><circle cx="911.5" cy="117" r="8.1" fill="url(#gD)" stroke="#1f5690" stroke-width="1.2"/><circle cx="568" cy="180.5" r="8.1" fill="url(#gD)" stroke="#1f5690" stroke-width="1.2"/><circle cx="679" cy="180.5" r="8.1" fill="url(#gD)" stroke="#1f5690" stroke-width="1.2"/><circle cx="794.5" cy="180.5" r="8.1" fill="url(#gD)" stroke="#1f5690" stroke-width="1.2"/><circle cx="911.5" cy="180.5" r="8.1" fill="url(#gD)" stroke="#1f5690" stroke-width="1.2"/><circle cx="568" cy="243" r="8.1" fill="url(#gD)" stroke="#1f5690" stroke-width="1.2"/><circle cx="679" cy="243" r="8.1" fill="url(#gD)" stroke="#1f5690" stroke-width="1.2"/><circle cx="794.5" cy="243" r="8.1" fill="url(#gD)" stroke="#1f5690" stroke-width="1.2"/><circle cx="911.5" cy="243" r="8.1" fill="url(#gD)" stroke="#1f5690" stroke-width="1.2"/><circle cx="624.5" cy="86" r="8.1" fill="url(#gD)" stroke="#1f5690" stroke-width="1.2"/><circle cx="739" cy="86" r="8.1" fill="url(#gD)" stroke="#1f5690" stroke-width="1.2"/><circle cx="855" cy="86" r="8.1" fill="url(#gD)" stroke="#1f5690" stroke-width="1.2"/><circle cx="968" cy="86" r="8.1" fill="url(#gD)" stroke="#1f5690" stroke-width="1.2"/><circle cx="624.5" cy="148.5" r="8.1" fill="url(#gD)" stroke="#1f5690" stroke-width="1.2"/><circle cx="739" cy="148.5" r="8.1" fill="url(#gD)" stroke="#1f5690" stroke-width="1.2"/><circle cx="855" cy="148.5" r="8.1" fill="url(#gD)" stroke="#1f5690" stroke-width="1.2"/><circle cx="968" cy="148.5" r="8.1" fill="url(#gD)" stroke="#1f5690" stroke-width="1.2"/><circle cx="624.5" cy="211.5" r="8.1" fill="url(#gD)" stroke="#1f5690" stroke-width="1.2"/><circle cx="739" cy="211.5" r="8.1" fill="url(#gD)" stroke="#1f5690" stroke-width="1.2"/><circle cx="855" cy="211.5" r="8.1" fill="url(#gD)" stroke="#1f5690" stroke-width="1.2"/><circle cx="968" cy="211.5" r="8.1" fill="url(#gD)" stroke="#1f5690" stroke-width="1.2"/><circle cx="624.5" cy="274" r="8.1" fill="url(#gD)" stroke="#1f5690" stroke-width="1.2"/><circle cx="739" cy="274" r="8.1" fill="url(#gD)" stroke="#1f5690" stroke-width="1.2"/><circle cx="855" cy="274" r="8.1" fill="url(#gD)" stroke="#1f5690" stroke-width="1.2"/><circle cx="968" cy="274" r="8.1" fill="url(#gD)" stroke="#1f5690" stroke-width="1.2"/>
<line x1="726.5" y1="180.5" x2="726.5" y2="122.5" stroke="#33454f" stroke-width="2.2" /><path d="M726.5 113L731.2 124.5L721.8 124.5z" fill="#33454f"/>
<line x1="726.5" y1="180.5" x2="832.5" y2="180.5" stroke="#33454f" stroke-width="2.2" /><path d="M842 180.5L830.5 185.2L830.5 175.8z" fill="#33454f"/>
</g>
<text x="647" y="117" font-size="20" font-weight="bold" fill="#0a0a0a" stroke="#0a0a0a" stroke-width="0.3" textLength="27" lengthAdjust="spacingAndGlyphs">1T′</text>
<g clip-path="url(#s2h)">
<line x1="150" y1="303.6" x2="113" y2="335.6" stroke="#2c3d49" stroke-width="5" /><line x1="150" y1="368" x2="113" y2="335.6" stroke="#2c3d49" stroke-width="5" /><line x1="150" y1="303.6" x2="171" y2="335.6" stroke="#2c3d49" stroke-width="5" /><line x1="150" y1="368" x2="171" y2="335.6" stroke="#2c3d49" stroke-width="5" /><line x1="269" y1="303.6" x2="232" y2="335.6" stroke="#2c3d49" stroke-width="5" /><line x1="269" y1="368" x2="232" y2="335.6" stroke="#2c3d49" stroke-width="5" /><line x1="269" y1="303.6" x2="290.4" y2="335.6" stroke="#2c3d49" stroke-width="5" /><line x1="269" y1="368" x2="290.4" y2="335.6" stroke="#2c3d49" stroke-width="5" /><circle cx="113" cy="335.6" r="17" fill="url(#gM)" stroke="#808a92" stroke-width="1.3"/><circle cx="171" cy="335.6" r="17" fill="url(#gMd)" stroke="#6b767e" stroke-width="1.3"/><circle cx="232" cy="335.6" r="17" fill="url(#gM)" stroke="#808a92" stroke-width="1.3"/><circle cx="290.4" cy="335.6" r="17" fill="url(#gMd)" stroke="#6b767e" stroke-width="1.3"/><line x1="91.6" y1="303.6" x2="63.3" y2="328.4" stroke="#2c3d49" stroke-width="5" /><line x1="91.6" y1="368" x2="63.2" y2="342.9" stroke="#2c3d49" stroke-width="5" /><line x1="91.6" y1="303.6" x2="106.9" y2="326.5" stroke="#2c3d49" stroke-width="5" /><line x1="91.6" y1="368" x2="106.9" y2="344.8" stroke="#2c3d49" stroke-width="5" /><line x1="210" y1="303.6" x2="179.5" y2="328.6" stroke="#2c3d49" stroke-width="5" /><line x1="210" y1="368" x2="179.5" y2="342.6" stroke="#2c3d49" stroke-width="5" /><line x1="210" y1="303.6" x2="225.8" y2="326.5" stroke="#2c3d49" stroke-width="5" /><line x1="210" y1="368" x2="225.8" y2="344.7" stroke="#2c3d49" stroke-width="5" /><line x1="325" y1="303.6" x2="298.5" y2="328.1" stroke="#2c3d49" stroke-width="5" /><line x1="325" y1="368" x2="298.4" y2="343.1" stroke="#2c3d49" stroke-width="5" /><line x1="325" y1="303.6" x2="343.2" y2="326.9" stroke="#2c3d49" stroke-width="5" /><line x1="325" y1="368" x2="343.3" y2="344.3" stroke="#2c3d49" stroke-width="5" /><circle cx="91.6" cy="303.6" r="9.7" fill="url(#gD)" stroke="#1f5690" stroke-width="1.2"/><circle cx="150" cy="303.6" r="9.6" fill="url(#gL)" stroke="#7f8fb2" stroke-width="1.3"/><circle cx="210" cy="303.6" r="9.7" fill="url(#gD)" stroke="#1f5690" stroke-width="1.2"/><circle cx="269" cy="303.6" r="9.6" fill="url(#gL)" stroke="#7f8fb2" stroke-width="1.3"/><circle cx="325" cy="303.6" r="9.7" fill="url(#gD)" stroke="#1f5690" stroke-width="1.2"/><circle cx="91.6" cy="368" r="9.7" fill="url(#gD)" stroke="#1f5690" stroke-width="1.2"/><circle cx="150" cy="368" r="9.6" fill="url(#gL)" stroke="#7f8fb2" stroke-width="1.3"/><circle cx="210" cy="368" r="9.7" fill="url(#gD)" stroke="#1f5690" stroke-width="1.2"/><circle cx="269" cy="368" r="9.6" fill="url(#gL)" stroke="#7f8fb2" stroke-width="1.3"/><circle cx="325" cy="368" r="9.7" fill="url(#gD)" stroke="#1f5690" stroke-width="1.2"/>
</g>
<g clip-path="url(#s1t)">
<line x1="391" y1="302" x2="373" y2="333" stroke="#2c3d49" stroke-width="5" /><line x1="391" y1="302" x2="428" y2="333" stroke="#2c3d49" stroke-width="5" /><line x1="460" y1="364" x2="428" y2="333" stroke="#2c3d49" stroke-width="5" /><line x1="505" y1="302" x2="482.4" y2="333" stroke="#2c3d49" stroke-width="5" /><line x1="460" y1="364" x2="482.4" y2="333" stroke="#2c3d49" stroke-width="5" /><line x1="505" y1="302" x2="540" y2="333" stroke="#2c3d49" stroke-width="5" /><line x1="576" y1="364" x2="540" y2="333" stroke="#2c3d49" stroke-width="5" /><line x1="615" y1="302" x2="597" y2="333" stroke="#2c3d49" stroke-width="5" /><line x1="576" y1="364" x2="597" y2="333" stroke="#2c3d49" stroke-width="5" /><line x1="615" y1="302" x2="652" y2="333" stroke="#2c3d49" stroke-width="5" /><circle cx="373" cy="333" r="16" fill="url(#gMd)" stroke="#6b767e" stroke-width="1.3"/><circle cx="428" cy="333" r="16" fill="url(#gM)" stroke="#808a92" stroke-width="1.3"/><circle cx="482.4" cy="333" r="16" fill="url(#gMd)" stroke="#6b767e" stroke-width="1.3"/><circle cx="540" cy="333" r="16" fill="url(#gM)" stroke="#808a92" stroke-width="1.3"/><circle cx="597" cy="333" r="16" fill="url(#gMd)" stroke="#6b767e" stroke-width="1.3"/><circle cx="652" cy="333" r="16" fill="url(#gM)" stroke="#808a92" stroke-width="1.3"/><line x1="404.4" y1="364" x2="380.8" y2="340.7" stroke="#2c3d49" stroke-width="5" /><line x1="446" y1="302" x2="433.5" y2="323.5" stroke="#2c3d49" stroke-width="5" /><line x1="404.4" y1="364" x2="421.3" y2="341.8" stroke="#2c3d49" stroke-width="5" /><line x1="446" y1="302" x2="474" y2="325.9" stroke="#2c3d49" stroke-width="5" /><line x1="516" y1="364" x2="490.5" y2="340.5" stroke="#2c3d49" stroke-width="5" /><line x1="560" y1="302" x2="546" y2="323.8" stroke="#2c3d49" stroke-width="5" /><line x1="516" y1="364" x2="533.3" y2="341.7" stroke="#2c3d49" stroke-width="5" /><line x1="560" y1="302" x2="588.6" y2="325.9" stroke="#2c3d49" stroke-width="5" /><line x1="626" y1="364" x2="604.5" y2="341" stroke="#2c3d49" stroke-width="5" /><line x1="626" y1="364" x2="644.9" y2="341.4" stroke="#2c3d49" stroke-width="5" /><circle cx="391" cy="302" r="9.6" fill="url(#gL)" stroke="#7f8fb2" stroke-width="1.3"/><circle cx="446" cy="302" r="9.7" fill="url(#gD)" stroke="#1f5690" stroke-width="1.2"/><circle cx="505" cy="302" r="9.6" fill="url(#gL)" stroke="#7f8fb2" stroke-width="1.3"/><circle cx="560" cy="302" r="9.7" fill="url(#gD)" stroke="#1f5690" stroke-width="1.2"/><circle cx="615" cy="302" r="9.6" fill="url(#gL)" stroke="#7f8fb2" stroke-width="1.3"/><circle cx="404.4" cy="364" r="9.7" fill="url(#gD)" stroke="#1f5690" stroke-width="1.2"/><circle cx="460" cy="364" r="9.6" fill="url(#gL)" stroke="#7f8fb2" stroke-width="1.3"/><circle cx="516" cy="364" r="9.7" fill="url(#gD)" stroke="#1f5690" stroke-width="1.2"/><circle cx="576" cy="364" r="9.6" fill="url(#gL)" stroke="#7f8fb2" stroke-width="1.3"/><circle cx="626" cy="364" r="9.7" fill="url(#gD)" stroke="#1f5690" stroke-width="1.2"/>
</g>
<g clip-path="url(#s1tp)">
<line x1="723" y1="334" x2="768" y2="334" stroke="#7fb1aa" stroke-width="4" /><line x1="838" y1="334" x2="883" y2="334" stroke="#7fb1aa" stroke-width="4" /><line x1="737" y1="299" x2="723" y2="334" stroke="#2c3d49" stroke-width="5" /><line x1="737" y1="299" x2="768" y2="334" stroke="#2c3d49" stroke-width="5" /><line x1="853" y1="299" x2="838" y2="334" stroke="#2c3d49" stroke-width="5" /><line x1="853" y1="299" x2="883" y2="334" stroke="#2c3d49" stroke-width="5" /><line x1="697" y1="360" x2="653" y2="334" stroke="#2c3d49" stroke-width="5" /><line x1="697" y1="360" x2="723" y2="334" stroke="#2c3d49" stroke-width="5" /><line x1="810" y1="360" x2="768" y2="334" stroke="#2c3d49" stroke-width="5" /><line x1="810" y1="360" x2="838" y2="334" stroke="#2c3d49" stroke-width="5" /><line x1="919" y1="359" x2="883" y2="334" stroke="#2c3d49" stroke-width="5" /><line x1="919" y1="359" x2="938" y2="334" stroke="#2c3d49" stroke-width="5" /><circle cx="723" cy="334" r="16" fill="url(#gMd)" stroke="#6b767e" stroke-width="1.3"/><circle cx="768" cy="334" r="16" fill="url(#gM)" stroke="#808a92" stroke-width="1.3"/><circle cx="838" cy="334" r="16" fill="url(#gMd)" stroke="#6b767e" stroke-width="1.3"/><circle cx="883" cy="334" r="16" fill="url(#gM)" stroke="#808a92" stroke-width="1.3"/><circle cx="938" cy="334" r="16" fill="url(#gM)" stroke="#808a92" stroke-width="1.3"/><line x1="687" y1="308" x2="714.1" y2="327.6" stroke="#2c3d49" stroke-width="5" /><line x1="687" y1="308" x2="661.7" y2="327.3" stroke="#2c3d49" stroke-width="5" /><line x1="793" y1="310" x2="775.9" y2="326.4" stroke="#2c3d49" stroke-width="5" /><line x1="793" y1="310" x2="828.3" y2="328.8" stroke="#2c3d49" stroke-width="5" /><line x1="908" y1="309.6" x2="890.9" y2="326.3" stroke="#2c3d49" stroke-width="5" /><line x1="908" y1="309.6" x2="929.5" y2="327.1" stroke="#2c3d49" stroke-width="5" /><line x1="755.6" y1="371" x2="730.3" y2="342.3" stroke="#2c3d49" stroke-width="5" /><line x1="755.6" y1="371" x2="764.5" y2="344.4" stroke="#2c3d49" stroke-width="5" /><line x1="871" y1="368" x2="845.7" y2="341.9" stroke="#2c3d49" stroke-width="5" /><line x1="871" y1="368" x2="879.3" y2="344.4" stroke="#2c3d49" stroke-width="5" /><circle cx="687" cy="308" r="9.7" fill="url(#gD)" stroke="#1f5690" stroke-width="1.2"/><circle cx="737" cy="299" r="9.6" fill="url(#gL)" stroke="#7f8fb2" stroke-width="1.3"/><circle cx="793" cy="310" r="9.7" fill="url(#gD)" stroke="#1f5690" stroke-width="1.2"/><circle cx="853" cy="299" r="9.6" fill="url(#gL)" stroke="#7f8fb2" stroke-width="1.3"/><circle cx="908" cy="309.6" r="9.7" fill="url(#gD)" stroke="#1f5690" stroke-width="1.2"/><circle cx="697" cy="360" r="9.6" fill="url(#gL)" stroke="#7f8fb2" stroke-width="1.3"/><circle cx="755.6" cy="371" r="9.7" fill="url(#gD)" stroke="#1f5690" stroke-width="1.2"/><circle cx="810" cy="360" r="9.6" fill="url(#gL)" stroke="#7f8fb2" stroke-width="1.3"/><circle cx="871" cy="368" r="9.7" fill="url(#gD)" stroke="#1f5690" stroke-width="1.2"/><circle cx="919" cy="359" r="9.6" fill="url(#gL)" stroke="#7f8fb2" stroke-width="1.3"/>
</g>
<text x="51.5" y="307" font-size="22" fill="#333" text-anchor="middle">A</text>
<text x="51.5" y="343" font-size="22" fill="#333" text-anchor="middle">B</text>
<text x="51.5" y="379" font-size="22" fill="#333" text-anchor="middle">A</text>
<text x="361" y="307" font-size="22" fill="#333" text-anchor="middle">A</text>
<text x="361" y="343" font-size="22" fill="#333" text-anchor="middle">B</text>
<text x="361" y="379" font-size="22" fill="#333" text-anchor="middle">C</text>
<rect x="527.5" y="416.5" width="395" height="47.5" fill="#fff" stroke="#9a9a9a" stroke-width="1.6"/>
<circle cx="554" cy="440" r="17" fill="url(#gM)" stroke="#808a92" stroke-width="1.3"/>
<text x="585" y="447.6" font-size="24" fill="#2c2c2c" stroke="#2c2c2c" stroke-width="0.3" textLength="151" lengthAdjust="spacingAndGlyphs">Transition metal</text>
<circle cx="780" cy="440" r="10.7" fill="url(#gD)" stroke="#1f5690" stroke-width="1.2"/>
<text x="804" y="447.6" font-size="24" fill="#2c2c2c" stroke="#2c2c2c" stroke-width="0.3" textLength="103" lengthAdjust="spacingAndGlyphs">Chalcogen</text>
<text x="968.6" y="43.6" font-size="51" font-weight="bold" fill="#000" stroke="#000" stroke-width="0.2">b</text>
<text x="1137" y="20.9" font-size="25.6" fill="#0a0a0a" stroke="#0a0a0a" stroke-width="0.5" text-anchor="middle" textLength="49.5" lengthAdjust="spacingAndGlyphs">Bulk</text>
<text x="1302.5" y="20.9" font-size="25.6" fill="#0a0a0a" stroke="#0a0a0a" stroke-width="0.5" text-anchor="middle" textLength="140" lengthAdjust="spacingAndGlyphs">Quadralayer</text>
<text x="1480" y="20.9" font-size="25.6" fill="#0a0a0a" stroke="#0a0a0a" stroke-width="0.5" text-anchor="middle" textLength="76" lengthAdjust="spacingAndGlyphs">Bilayer</text>
<text x="1648" y="20.9" font-size="25.6" fill="#0a0a0a" stroke="#0a0a0a" stroke-width="0.5" text-anchor="middle" textLength="118" lengthAdjust="spacingAndGlyphs">Monolayer</text>
<text transform="translate(1052.2 244.5) rotate(-90)" font-size="24" fill="#0a0a0a" stroke="#0a0a0a" stroke-width="0.9" text-anchor="middle" textLength="73" lengthAdjust="spacingAndGlyphs">Energy</text>
<g clip-path="url(#cb0)">
<path d="M1063.5 48C1066.2 50.7 1065.8 50 1071.5 56C1077.2 62 1074.8 56 1080.5 66C1086.2 76 1083.2 74.7 1088.5 86C1093.8 97.3 1091.5 96 1096.5 100C1101.5 104 1101.2 98.7 1103.5 98" fill="none" stroke="#c6c6c6" stroke-width="1.9"/><path d="M1069.5 46C1072.2 50.7 1072.2 51.7 1077.5 60C1082.8 68.3 1080.2 68.3 1085.5 71C1090.8 73.7 1087.5 72.3 1093.5 68C1099.5 63.7 1096.2 64 1103.5 58C1110.8 52 1108.2 54 1115.5 50C1122.8 46 1122.2 47.3 1125.5 46" fill="none" stroke="#c6c6c6" stroke-width="1.9"/><path d="M1083.5 46C1082.5 50 1082.5 51.3 1080.5 58C1078.5 64.7 1078.5 63.3 1077.5 66" fill="none" stroke="#c6c6c6" stroke-width="1.9"/><path d="M1095.5 46C1094.2 50.7 1094.2 51.3 1091.5 60C1088.8 68.7 1088.8 68 1087.5 72" fill="none" stroke="#c6c6c6" stroke-width="1.9"/><path d="M1103.5 95C1105.5 90.7 1105.5 89.3 1109.5 82C1113.5 74.7 1110.8 76.7 1115.5 73C1120.2 69.3 1118.8 76 1123.5 71C1128.2 66 1126.8 65 1129.5 58C1132.2 51 1130.8 52.7 1131.5 50" fill="none" stroke="#c6c6c6" stroke-width="1.9"/><path d="M1131.5 50C1132.8 55.3 1132.2 54.7 1135.5 66C1138.8 77.3 1137.2 77 1141.5 84C1145.8 91 1143.2 88.3 1148.5 87C1153.8 85.7 1151.8 85 1157.5 80C1163.2 75 1159.5 77 1165.5 72C1171.5 67 1168.8 66.3 1175.5 65C1182.2 63.7 1182.2 67 1185.5 68" fill="none" stroke="#c6c6c6" stroke-width="1.9"/><path d="M1149.5 111C1151.2 104.7 1151.5 103 1154.5 92C1157.5 81 1155.5 84.3 1158.5 78C1161.5 71.7 1159.8 71 1163.5 73C1167.2 75 1165.5 77.3 1169.5 84C1173.5 90.7 1170.8 91.7 1175.5 93C1180.2 94.3 1178.8 95 1183.5 88C1188.2 81 1185.8 82.7 1189.5 72C1193.2 61.3 1191.2 62 1194.5 56C1197.8 50 1196.2 53.3 1199.5 54C1202.8 54.7 1202.8 56.7 1204.5 58" fill="none" stroke="#c6c6c6" stroke-width="1.9"/><path d="M1154.5 46C1155.8 51.3 1155.5 53 1158.5 62C1161.5 71 1161.8 69.3 1163.5 73" fill="none" stroke="#c6c6c6" stroke-width="1.9"/><path d="M1176.5 46C1178.2 49.3 1178.2 49.3 1181.5 56C1184.8 62.7 1184.8 62.7 1186.5 66" fill="none" stroke="#c6c6c6" stroke-width="1.9"/><path d="M1169.5 78C1171.5 81.3 1170.8 86 1175.5 88C1180.2 90 1178.8 90.7 1183.5 84C1188.2 77.3 1187.5 73.3 1189.5 68" fill="none" stroke="#c6c6c6" stroke-width="1.9"/><path d="M1063.5 241.3C1066 240.2 1066.3 237.3 1071 238C1075.7 238.7 1073.3 236.7 1077.5 243.5C1081.7 250.3 1078.5 245.6 1083.5 258.4C1088.5 271.2 1088.2 270.4 1092.5 281.8C1096.8 293.2 1093 292.5 1096.5 292.5C1100 292.5 1098 291 1103 281.8C1108 272.6 1107.1 272.6 1111.5 264.8C1115.9 257 1114.6 260.5 1116.1 258.4" fill="none" stroke="#c8c8c8" stroke-width="1.9"/><path d="M1063.5 255C1066.7 254.7 1067.1 252.9 1073.1 254C1079.1 255.1 1075.8 251.3 1081.5 258.4C1087.2 265.5 1085.2 264 1090.2 275.4C1095.2 286.8 1094.4 286.8 1096.5 292.5" fill="none" stroke="#c8c8c8" stroke-width="1.9"/><path d="M1116.1 260.5C1119.6 255.5 1120.2 254.1 1126.5 245.6C1132.8 237.1 1128.6 242.9 1134.9 235C1141.2 227.1 1142 226.3 1145.5 222" fill="none" stroke="#c8c8c8" stroke-width="1.9"/><path d="M1204.5 243.5C1202.6 241.7 1202.9 239.8 1198.9 238C1194.9 236.2 1196.8 234.8 1192.5 238C1188.2 241.2 1188.2 244.5 1186.1 247.7" fill="none" stroke="#c8c8c8" stroke-width="1.9"/><path d="M1204.5 255C1201.8 254.7 1201.9 253.7 1196.5 254C1191.1 254.3 1192.4 253.1 1188.2 256C1184 258.9 1185.4 260.4 1184 262.6" fill="none" stroke="#c8c8c8" stroke-width="1.9"/><path d="M1175.5 269C1175.2 272.6 1175.9 273.4 1174.5 279.7C1173.1 286 1174.5 279.6 1171.2 288C1167.9 296.4 1169.5 292.1 1164.5 305C1159.5 317.9 1161.1 314.4 1156.2 326.6C1151.3 338.8 1153.5 334.4 1149.9 341.5C1146.3 348.6 1147 345.8 1145.5 348" fill="none" stroke="#c8c8c8" stroke-width="1.9"/><path d="M1149.9 339.4C1152.8 330.9 1152.8 328.7 1158.5 313.8C1164.2 298.9 1161.2 304.2 1166.9 294.6C1172.6 285 1169.8 287.9 1175.5 285C1181.2 282.1 1177.7 283.1 1184 286C1190.3 288.9 1187.7 288.6 1194.5 293.6C1201.3 298.6 1201.2 298.5 1204.5 301" fill="none" stroke="#c8c8c8" stroke-width="1.9"/><path d="M1063.5 299C1066 297.5 1066.3 295.7 1071 294.6C1075.7 293.5 1073.3 292.9 1077.5 295.7C1081.7 298.5 1078.5 297 1083.5 303C1088.5 309 1086 307.4 1092.5 313.8C1099 320.2 1095.1 318.7 1103 322.3C1110.9 325.9 1108.3 324.5 1116.1 324.5C1123.9 324.5 1120.2 320.9 1126.5 322.3C1132.8 323.7 1128.6 322.3 1134.9 328.7C1141.2 335.1 1142 337.2 1145.5 341.5" fill="none" stroke="#c8c8c8" stroke-width="1.9"/><path d="M1063.5 301C1066 305.3 1065.7 303.8 1071 313.8C1076.3 323.8 1075.3 322.5 1079.5 331C1083.7 339.5 1082.2 336.6 1083.5 339.4" fill="none" stroke="#b0b0b0" stroke-width="2.0"/><path d="M1081.5 335C1083.7 328.7 1083.7 326.7 1088 316C1092.3 305.3 1091 309.4 1094.5 303C1098 296.6 1097.2 298.9 1098.5 296.8" fill="none" stroke="#b0b0b0" stroke-width="2.0"/><path d="M1094.5 303C1097.3 307.3 1098 306.7 1103 316C1108 325.3 1105.1 322.5 1109.5 331C1113.9 339.5 1110.4 337.3 1116.1 341.5C1121.8 345.7 1119.5 342.3 1126.5 343.7C1133.5 345.1 1130.7 346.5 1137 345.8C1143.3 345.1 1140.5 342.2 1145.5 341.5C1150.5 340.8 1148.4 344.4 1152 343.7C1155.6 343 1154.8 340.8 1156.2 339.4" fill="none" stroke="#c8c8c8" stroke-width="1.9"/><path d="M1116.1 262.6C1118.1 271.9 1118 269.1 1122.1 290.4C1126.2 311.7 1124.9 303.9 1128.5 326.6C1132.1 349.3 1129.2 335.1 1132.8 358.6C1136.4 382.1 1135 375.7 1139.2 397C1143.4 418.3 1143.4 414 1145.5 422.5" fill="none" stroke="#c8c8c8" stroke-width="1.9"/><path d="M1120 273.3C1122.2 285.4 1122.6 284.6 1126.5 309.5C1130.4 334.4 1128.2 322.4 1131.7 348C1135.2 373.6 1133.1 363.6 1137 386.3C1140.9 409 1141.3 406.1 1143.5 416" fill="none" stroke="#c8c8c8" stroke-width="1.9"/><path d="M1063.5 365C1066 361.4 1065.7 361.4 1071 354.3C1076.3 347.2 1075.7 348.7 1079.5 343.7C1083.3 338.7 1079.7 336.6 1082.5 339.4C1085.3 342.2 1083.3 340.6 1088 352C1092.7 363.4 1090.8 361.4 1096.5 373.5C1102.2 385.6 1098.6 380.6 1105.1 388.4C1111.6 396.2 1109.7 394.1 1116.1 397C1122.5 399.9 1119.1 398.1 1124.3 397C1129.5 395.9 1127.5 393.1 1131.7 393.8C1135.9 394.5 1132.4 390.1 1137 399C1141.6 407.9 1142.7 413.3 1145.5 420.4" fill="none" stroke="#b0b0b0" stroke-width="2.0"/><path d="M1063.5 365C1066 370.7 1065.7 368.5 1071 382C1076.3 395.5 1073.8 389.8 1079.5 405.5C1085.2 421.2 1083.7 416.2 1088 429C1092.3 441.8 1091 439 1092.5 444" fill="none" stroke="#b0b0b0" stroke-width="2.0"/><path d="M1063.5 388.4C1066 392.6 1065.7 389.6 1071 401C1076.3 412.4 1074.5 408.2 1079.5 422.5C1084.5 436.8 1083.8 436.8 1085.9 444" fill="none" stroke="#c8c8c8" stroke-width="1.9"/><path d="M1082.5 339.4C1083.6 345.8 1083.3 341.5 1085.9 358.6C1088.5 375.7 1087.3 369.3 1090.2 390.6C1093.1 411.9 1092.4 404.7 1094.5 422.5C1096.6 440.3 1095.8 436.8 1096.5 444" fill="none" stroke="#c8c8c8" stroke-width="1.9"/><path d="M1071 313.8C1073.2 325.2 1073.3 323.8 1077.5 348C1081.7 372.2 1079.3 361.5 1083.5 386.3C1087.7 411.1 1086.5 403.3 1090.2 422.5C1093.9 441.7 1093.1 436.8 1094.5 444" fill="none" stroke="#c8c8c8" stroke-width="1.9"/><path d="M1148 444C1149.2 435.3 1148.8 435.8 1151.5 418C1154.2 400.2 1152.5 406.9 1156.2 390.6C1159.9 374.3 1158.2 383.9 1162.5 369C1166.8 354.1 1164.7 359.2 1169 345.8C1173.3 332.4 1172.3 335.5 1175.5 328.7C1178.7 321.9 1176 324.7 1178.5 325.5C1181 326.3 1180 326.4 1182.9 331C1185.8 335.6 1184 333.1 1187.2 339.4C1190.4 345.7 1188.6 342.9 1192.5 350C1196.4 357.1 1194.9 355.4 1198.9 360.7C1202.9 366 1202.6 364.2 1204.5 366" fill="none" stroke="#b0b0b0" stroke-width="2.0"/><path d="M1187.2 341.5C1185.4 347.9 1185 347.2 1181.8 360.7C1178.6 374.2 1181 366.4 1177.5 382C1174 397.6 1175.5 390.6 1171.2 407.6C1166.9 424.6 1167.7 420.9 1164.5 433C1161.3 445.1 1162.5 440.3 1161.5 444" fill="none" stroke="#b0b0b0" stroke-width="2.0"/><path d="M1204.5 301C1202.6 303.8 1202.9 301 1198.9 309.5C1194.9 318 1196.1 316.6 1192.5 326.6C1188.9 336.6 1189.6 335.1 1188.2 339.4" fill="none" stroke="#b0b0b0" stroke-width="2.0"/><path d="M1204.5 367C1202.6 371.3 1202.9 368.7 1198.9 380C1194.9 391.3 1196.8 386.8 1192.5 401C1188.2 415.2 1190.4 408.2 1186.1 422.5C1181.8 436.8 1181.7 436.8 1179.5 444" fill="none" stroke="#b0b0b0" stroke-width="2.0"/><path d="M1204.5 388.4C1201.8 393.4 1201.2 392 1196.5 403.4C1191.8 414.8 1194.7 409 1190.5 422.5C1186.3 436 1186.2 436.8 1184 444" fill="none" stroke="#c8c8c8" stroke-width="1.9"/><path d="M1198.9 311.7C1196.8 320.9 1196.8 320.3 1192.5 339.4C1188.2 358.5 1190.4 349.8 1186.1 369C1181.8 388.2 1183.8 379.2 1179.5 397C1175.2 414.8 1176.8 406.8 1173.3 422.5C1169.8 438.2 1170.4 436.8 1169 444" fill="none" stroke="#c8c8c8" stroke-width="1.9"/><path d="M1088 423.6C1091.5 424 1092.1 422.6 1098.5 424.7C1104.9 426.8 1101.3 426.8 1107.2 430C1113.1 433.2 1109.7 433.6 1116.1 434.3C1122.5 435 1120.2 433.1 1126.5 432C1132.8 430.9 1130 429.2 1134.9 431C1139.8 432.8 1138.1 433.2 1141.3 437.5C1144.5 441.8 1143.4 441.8 1144.5 444" fill="none" stroke="#c8c8c8" stroke-width="1.9"/><path d="M1145.5 390.6C1148.4 391.3 1148.4 392.7 1154.1 392.7C1159.8 392.7 1156.8 393.5 1162.5 390.6C1168.2 387.7 1166.2 389.7 1171.2 384C1176.2 378.3 1175.4 377 1177.5 373.5" fill="none" stroke="#c8c8c8" stroke-width="1.9"/><path d="M1145.5 403.4C1147.7 404.8 1148.4 406.9 1152 407.6C1155.6 408.3 1154.8 406.2 1156.2 405.5" fill="none" stroke="#c8c8c8" stroke-width="1.9"/><path d="M1145.5 420.4C1148.4 421.1 1148.4 421.1 1154.1 422.5C1159.8 423.9 1157.5 421.9 1162.5 424.7C1167.5 427.5 1164.7 429.6 1169 431C1173.3 432.4 1173.3 429.7 1175.5 429" fill="none" stroke="#c8c8c8" stroke-width="1.9"/><path d="M1149.9 433C1152.8 431.7 1152.8 428.2 1158.5 429C1164.2 429.8 1162 431.2 1166.9 435.4C1171.8 439.6 1171.2 439.6 1173.3 441.7" fill="none" stroke="#c8c8c8" stroke-width="1.9"/>
</g>
<rect x="1063.5" y="46" width="141" height="398" fill="none" stroke="#6f6f6f" stroke-width="2.4"/>
<line x1="1116.1" y1="46" x2="1116.1" y2="444" stroke="#6f6f6f" stroke-width="2.3" />
<line x1="1145.7" y1="46" x2="1145.7" y2="444" stroke="#6f6f6f" stroke-width="2.3" />
<line x1="1063.5" y1="217" x2="1204.5" y2="217" stroke="#6a6a6a" stroke-width="1.7" stroke-dasharray="3.8 2.4"/>
<path d="M1063.5 60C1072.8 60 1081.5 118 1090 118C1095 118 1098.3 106.5 1101.5 100.5C1104.7 94.5 1110.5 93.5 1120.5 93.5C1129.1 93.5 1137.7 117.8 1145 117.8C1149.4 117.8 1151.6 111.5 1156 111.5C1162.9 111.5 1167.2 138.5 1173.3 138.5C1183.3 138.5 1193.6 59 1204.5 59" fill="none" stroke="#e6353c" stroke-width="2.9" stroke-linejoin="round"/>
<path d="M1063.5 187C1076.2 187 1087 272 1097 272C1103 272 1109.1 259.5 1116.1 258C1119.1 248 1131.7 231 1143.7 217.8C1145 216.4 1146.4 216.4 1147.7 217.8C1155.7 235 1164 267.5 1175 267.5C1184.4 267.5 1193.3 187 1204.5 187" fill="none" stroke="#3b4a9c" stroke-width="2.9" stroke-linejoin="round"/>
<text class="serif" x="1062" y="466.8" font-size="23" fill="#0a0a0a" stroke="#0a0a0a" stroke-width="0.75">Γ</text>
<text class="serif" x="1116.7" y="466.8" font-size="23" fill="#0a0a0a" stroke="#0a0a0a" stroke-width="0.75" text-anchor="middle" textLength="18" lengthAdjust="spacingAndGlyphs">M</text>
<text class="serif" x="1146.2" y="466.8" font-size="23" fill="#0a0a0a" stroke="#0a0a0a" stroke-width="0.75" text-anchor="middle" textLength="15" lengthAdjust="spacingAndGlyphs">K</text>
<text class="serif" x="1197" y="466.8" font-size="23" fill="#0a0a0a" stroke="#0a0a0a" stroke-width="0.75">Γ</text>
<g clip-path="url(#cb1)">
<path d="M1232.5 60C1235.2 62.7 1235.2 59.3 1240.5 68C1245.8 76.7 1243.2 75.3 1248.5 86C1253.8 96.7 1251.8 94 1256.5 100C1261.2 106 1258.5 105.3 1262.5 104C1266.5 102.7 1263.2 105.3 1268.5 96C1273.8 86.7 1272.5 87.3 1278.5 76C1284.5 64.7 1281.2 70.7 1286.5 62C1291.8 53.3 1290.5 55.3 1294.5 50C1298.5 44.7 1297.2 47.3 1298.5 46" fill="none" stroke="#c6c6c6" stroke-width="1.9"/><path d="M1236.5 62C1239.2 68 1239.2 69.3 1244.5 80C1249.8 90.7 1247.2 85.3 1252.5 94C1257.8 102.7 1255.8 104 1260.5 106C1265.2 108 1261.2 108.7 1266.5 100C1271.8 91.3 1270.5 90.7 1276.5 80C1282.5 69.3 1281.8 72 1284.5 68" fill="none" stroke="#c6c6c6" stroke-width="1.9"/><path d="M1238.5 64C1241.2 70.7 1241.2 72 1246.5 84C1251.8 96 1249.8 91.3 1254.5 100C1259.2 108.7 1255.8 110 1260.5 110C1265.2 110 1263.2 104.7 1268.5 100C1273.8 95.3 1271.2 98 1276.5 96C1281.8 94 1281.8 94.7 1284.5 94" fill="none" stroke="#c6c6c6" stroke-width="1.9"/><path d="M1284.5 68C1287.2 67.3 1287.8 70 1292.5 66C1297.2 62 1295.2 61.3 1298.5 56C1301.8 50.7 1299.8 49.3 1302.5 50C1305.2 50.7 1303.2 49.3 1306.5 58C1309.8 66.7 1308.5 69.3 1312.5 76C1316.5 82.7 1314.5 79.3 1318.5 78C1322.5 76.7 1322.5 74 1324.5 72" fill="none" stroke="#c6c6c6" stroke-width="1.9"/><path d="M1284.5 62C1287.8 60 1288.5 60.7 1294.5 56C1300.5 51.3 1299.8 50.7 1302.5 48" fill="none" stroke="#c6c6c6" stroke-width="1.9"/><path d="M1314.5 46C1316.5 50 1315.8 50 1320.5 58C1325.2 66 1323.2 62.7 1328.5 70C1333.8 77.3 1331.2 75.3 1336.5 80C1341.8 84.7 1339.2 84.7 1344.5 84C1349.8 83.3 1347.2 84 1352.5 78C1357.8 72 1355.2 72.7 1360.5 66C1365.8 59.3 1364.2 60.7 1368.5 58C1372.8 55.3 1371.8 58 1373.5 58" fill="none" stroke="#c6c6c6" stroke-width="1.9"/><path d="M1314.5 66C1317.2 65.3 1317.2 61.3 1322.5 64C1327.8 66.7 1325.2 66.7 1330.5 74C1335.8 81.3 1333.8 80.7 1338.5 86C1343.2 91.3 1339.8 90.7 1344.5 90C1349.2 89.3 1347.8 90 1352.5 84C1357.2 78 1356.5 76 1358.5 72" fill="none" stroke="#c6c6c6" stroke-width="1.9"/><path d="M1316.5 110C1318.5 104 1318.5 101.3 1322.5 92C1326.5 82.7 1324.5 82.7 1328.5 82C1332.5 81.3 1330.5 84 1334.5 90C1338.5 96 1336.5 97.3 1340.5 100C1344.5 102.7 1342.5 102 1346.5 98C1350.5 94 1350.5 91.3 1352.5 88" fill="none" stroke="#c6c6c6" stroke-width="1.9"/><path d="M1318.5 114C1321.2 108.7 1321.8 103.3 1326.5 98C1331.2 92.7 1328.5 94.7 1332.5 98C1336.5 101.3 1334.5 103.3 1338.5 108C1342.5 112.7 1340.5 113.3 1344.5 112C1348.5 110.7 1348.5 106.7 1350.5 104" fill="none" stroke="#c6c6c6" stroke-width="1.9"/><path d="M1324.5 112C1327.2 111.3 1327.8 107.3 1332.5 110C1337.2 112.7 1334.8 114.7 1338.5 120C1342.2 125.3 1340.2 126.7 1343.5 126C1346.8 125.3 1346.8 120.7 1348.5 118" fill="none" stroke="#c6c6c6" stroke-width="1.9"/><path d="M1232.5 245.6C1235.3 245.2 1236 243 1241 244.5C1246 246 1243.3 244 1247.5 250C1251.7 256 1251.5 258.4 1253.5 262.6" fill="none" stroke="#bcbcbc" stroke-width="1.9"/><path d="M1232.5 262.6C1235.3 261.2 1236 259.1 1241 258.4C1246 257.7 1243.3 257 1247.5 260.5C1251.7 264 1249.3 262.6 1253.5 269C1257.7 275.4 1258 276.1 1260.2 279.7" fill="none" stroke="#bcbcbc" stroke-width="1.9"/><path d="M1373.5 245.6C1371.2 245.2 1370.8 243.8 1366.5 244.5C1362.2 245.2 1363.9 244.5 1360.5 247.7C1357.1 250.9 1357.6 251.9 1356.2 254" fill="none" stroke="#bcbcbc" stroke-width="1.9"/><path d="M1373.5 262.6C1371.2 260.4 1370.8 258.9 1366.5 256C1362.2 253.1 1364.7 252.5 1360.5 254C1356.3 255.5 1356.2 258.3 1354 260.5" fill="none" stroke="#bcbcbc" stroke-width="1.9"/><path d="M1285.4 261C1288.8 256 1289.3 254.7 1295.5 246C1301.7 237.3 1297.4 243 1303.9 235C1310.4 227 1311.3 226.3 1315 222" fill="none" stroke="#959595" stroke-width="2.0"/><path d="M1232.5 279.7C1235.3 278.3 1236 276.1 1241 275.4C1246 274.7 1242.5 272.6 1247.5 277.6C1252.5 282.6 1250.3 279.7 1256 290.4C1261.7 301.1 1258.8 299.1 1264.5 309.6C1270.2 320.1 1266 315.6 1273 322C1280 328.4 1278.3 327.2 1285.4 328.7C1292.5 330.2 1287.8 325.8 1294.3 326.6C1300.8 327.4 1298 325.3 1305 331C1312 336.7 1311.8 339.5 1315.2 343.7" fill="none" stroke="#bcbcbc" stroke-width="1.9"/><path d="M1232.5 288C1235.3 286.7 1236 284.7 1241 284C1246 283.3 1242.5 281 1247.5 286C1252.5 291 1250.3 288.3 1256 299C1261.7 309.7 1258.8 307.3 1264.5 318C1270.2 328.7 1266 325.3 1273 331C1280 336.7 1278.3 333.7 1285.4 335C1292.5 336.3 1287.8 333.5 1294.3 335C1300.8 336.5 1298 335.1 1305 339.4C1312 343.7 1311.8 345.1 1315.2 348" fill="none" stroke="#bcbcbc" stroke-width="1.9"/><path d="M1232.5 294.6C1235.3 293.2 1236 290.7 1241 290.4C1246 290.1 1242.5 287.9 1247.5 293.6C1252.5 299.3 1250.3 297.1 1256 307.4C1261.7 317.7 1258.8 315.3 1264.5 324.5C1270.2 333.7 1266 330 1273 335C1280 340 1278.3 338.6 1285.4 339.4C1292.5 340.2 1287.8 336.6 1294.3 337.3C1300.8 338 1298 337.9 1305 341.5C1312 345.1 1311.8 345.8 1315.2 348" fill="none" stroke="#bcbcbc" stroke-width="1.9"/><path d="M1232.5 271C1235.3 269.7 1236 267.7 1241 267C1246 266.3 1242.5 264.3 1247.5 269C1252.5 273.7 1251 272.3 1256 281C1261 289.7 1260.3 290.3 1262.5 295" fill="none" stroke="#bcbcbc" stroke-width="1.9"/><path d="M1315.2 348C1317.5 345.1 1316.9 350.8 1322 339.4C1327.1 328 1324.8 330.9 1330.5 313.8C1336.2 296.7 1333.4 300.8 1339.1 288C1344.8 275.2 1341.8 280.3 1347.5 275.4C1353.2 270.5 1350.5 271.2 1356.2 273.3C1361.9 275.4 1358.7 274 1364.5 281.8C1370.3 289.6 1370.5 291.8 1373.5 296.8" fill="none" stroke="#959595" stroke-width="2.0"/><path d="M1315.2 345.8C1318.2 340.9 1318.4 344.6 1324.2 331C1330 317.4 1326.8 320.7 1332.5 305C1338.2 289.3 1335.5 292.8 1341.2 284C1346.9 275.2 1343.8 280 1349.5 278.6C1355.2 277.2 1352.6 276.6 1358.3 279.7C1364 282.8 1361.4 281.6 1366.5 288C1371.6 294.4 1371.2 295.3 1373.5 299" fill="none" stroke="#bcbcbc" stroke-width="1.9"/><path d="M1347.5 271C1350.4 270.3 1350.5 267.5 1356.2 269C1361.9 270.5 1358.7 266.9 1364.5 275.4C1370.3 283.9 1370.5 288.2 1373.5 294.6" fill="none" stroke="#bcbcbc" stroke-width="1.9"/><path d="M1232.5 299C1235.3 303.2 1236 302.5 1241 311.7C1246 320.9 1244 319.8 1247.5 326.6C1251 333.4 1248.7 332.7 1251.5 332C1254.3 331.3 1252.3 333.5 1256 324.5C1259.7 315.5 1257.5 318.5 1262.5 305C1267.5 291.5 1265.2 296 1270.9 284C1276.6 272 1274.7 276.8 1279.5 269C1284.3 261.2 1283.4 263.3 1285.4 260.5" fill="none" stroke="#707070" stroke-width="2.0"/><path d="M1232.5 365C1235.3 360.7 1235.3 360.2 1241 352C1246.7 343.8 1246 344.7 1249.5 340.5C1253 336.3 1248.6 335.6 1251.5 339.4C1254.4 343.2 1253.1 340.6 1258.1 352C1263.1 363.4 1260.8 360.6 1266.5 373.5C1272.2 386.4 1268.8 382.8 1275.1 390.6C1281.4 398.4 1279 394.9 1285.4 397C1291.8 399.1 1289.3 398.1 1294.3 397C1299.3 395.9 1296.2 393.8 1300.5 393.8C1304.8 393.8 1302.2 393.8 1307.1 397C1312 400.2 1312.5 401.3 1315.2 403.4" fill="none" stroke="#707070" stroke-width="2.0"/><path d="M1317.5 444C1318.8 435.3 1318.6 435.8 1321.5 418C1324.4 400.2 1322.6 406.9 1326.3 390.6C1330 374.3 1328.2 383.2 1332.5 369C1336.8 354.8 1334.8 361.4 1339.1 348C1343.4 334.6 1342.4 336.5 1345.5 328.7C1348.6 320.9 1346 323.7 1348.5 324.5C1351 325.3 1350.4 326.7 1353 331C1355.6 335.3 1353.7 331.6 1356.2 337.3C1358.7 343 1357.1 340.9 1360.5 348C1363.9 355.1 1362.2 352.9 1366.5 358.6C1370.8 364.3 1371.2 362.9 1373.5 365" fill="none" stroke="#707070" stroke-width="2.0"/><path d="M1356.2 339.4C1354.8 345.8 1354.8 345.1 1351.9 358.6C1349 372.1 1351.1 363.7 1347.5 380C1343.9 396.3 1345.5 389.9 1341.2 407.6C1336.9 425.3 1337.7 420.9 1334.5 433C1331.3 445.1 1332.5 440.3 1331.5 444" fill="none" stroke="#707070" stroke-width="2.0"/><path d="M1373.5 299C1372 302.5 1372.7 300.4 1369 309.6C1365.3 318.8 1366.1 316.7 1362.5 326.6C1358.9 336.5 1360.4 333 1358.3 339.4C1356.2 345.8 1356.9 343.7 1356.2 345.8" fill="none" stroke="#707070" stroke-width="2.0"/><path d="M1373.5 365C1372 369.3 1372.7 366.5 1369 377.8C1365.3 389.1 1366.8 384.8 1362.5 399C1358.2 413.2 1360.5 405.4 1356.2 420.4C1351.9 435.4 1351.7 436.1 1349.5 444" fill="none" stroke="#707070" stroke-width="2.0"/><path d="M1285.4 262.6C1287 269.7 1286.4 266.2 1290.1 284C1293.8 301.8 1292.2 291.1 1296.5 316C1300.8 340.9 1298.6 330.3 1302.9 358.6C1307.2 386.9 1305.2 379 1309.3 401C1313.4 423 1313.2 416.8 1315.2 424.7" fill="none" stroke="#707070" stroke-width="2.0"/><path d="M1287.5 270C1289.5 281.7 1289.7 280 1293.5 305C1297.3 330 1295.3 318.7 1299 345C1302.7 371.3 1300.5 360.3 1304.5 384C1308.5 407.7 1307.4 398.7 1311 416C1314.6 433.3 1313.8 429.3 1315.2 436" fill="none" stroke="#bcbcbc" stroke-width="1.9"/><path d="M1232.5 365C1235.3 370.7 1235.3 368.5 1241 382C1246.7 395.5 1243.8 389.8 1249.5 405.5C1255.2 421.2 1253.8 416.2 1258.1 429C1262.4 441.8 1261 439 1262.5 444" fill="none" stroke="#707070" stroke-width="2.0"/><path d="M1234.5 369C1238.1 378.3 1238.9 379.2 1245.3 397C1251.7 414.8 1249.2 406.8 1253.8 422.5C1258.4 438.2 1257.4 436.8 1259.2 444" fill="none" stroke="#959595" stroke-width="2.0"/><path d="M1232.5 376C1235.3 381.3 1235.3 379 1241 392C1246.7 405 1244.5 401.7 1249.5 415C1254.5 428.3 1252.3 422.3 1256 432C1259.7 441.7 1259 440 1260.5 444" fill="none" stroke="#bcbcbc" stroke-width="1.9"/><path d="M1251.5 339.4C1252.5 345.1 1252.2 342.3 1254.5 356.5C1256.8 370.7 1255.8 363.5 1258.5 382C1261.2 400.5 1260.3 391.3 1262.5 412C1264.7 432.7 1264.2 433.3 1265 444" fill="none" stroke="#959595" stroke-width="2.0"/><path d="M1240.5 312C1242.5 323.3 1242.5 322 1246.5 346C1250.5 370 1248.5 359.3 1252.5 384C1256.5 408.7 1255 400 1258.5 420C1262 440 1261.5 436 1263 444" fill="none" stroke="#bcbcbc" stroke-width="1.9"/><path d="M1262.5 424.7C1266 426.1 1265.4 425.4 1273 429C1280.6 432.6 1278.3 434.1 1285.4 435.4C1292.5 436.7 1287.8 433 1294.3 433C1300.8 433 1299.3 431.7 1305 435.4C1310.7 439.1 1309.3 441.1 1311.5 444" fill="none" stroke="#bcbcbc" stroke-width="1.9"/><path d="M1315.2 382C1317.5 382.7 1316.9 382.6 1322 384C1327.1 385.4 1324.8 386.3 1330.5 386.3C1336.2 386.3 1336.2 384.8 1339.1 384" fill="none" stroke="#bcbcbc" stroke-width="1.9"/><path d="M1315.2 390.6C1318.2 392.7 1318.4 395.5 1324.2 397C1330 398.5 1326.8 397.1 1332.5 395C1338.2 392.9 1338.3 392.1 1341.2 390.6" fill="none" stroke="#bcbcbc" stroke-width="1.9"/><path d="M1315.2 403.4C1318.2 404.8 1318.4 405.5 1324.2 407.6C1330 409.7 1326.8 410.5 1332.5 409.8C1338.2 409.1 1338.3 406.9 1341.2 405.5" fill="none" stroke="#bcbcbc" stroke-width="1.9"/><path d="M1317.8 416C1320.6 417.5 1320.7 418.2 1326.3 420.4C1331.9 422.6 1328.8 423.2 1334.5 422.5C1340.2 421.8 1340.5 419.7 1343.5 418.3" fill="none" stroke="#bcbcbc" stroke-width="1.9"/><path d="M1317.8 429C1320.6 430.3 1320.7 430.9 1326.3 433C1331.9 435.1 1329.5 435.4 1334.5 435.4C1339.5 435.4 1339 433.8 1341.2 433" fill="none" stroke="#bcbcbc" stroke-width="1.9"/><path d="M1368.5 312C1366.5 320.7 1366.7 319.3 1362.5 338C1358.3 356.7 1360.3 348.7 1356 368C1351.7 387.3 1353.8 378 1349.5 396C1345.2 414 1346.7 406 1343 422C1339.3 438 1340 436.7 1338.5 444" fill="none" stroke="#959595" stroke-width="2.0"/><path d="M1373.5 388C1371.2 393 1370.8 391.7 1366.5 403C1362.2 414.3 1364.7 408.3 1360.5 422C1356.3 435.7 1356.2 436.7 1354 444" fill="none" stroke="#bcbcbc" stroke-width="1.9"/><path d="M1316.5 444C1317.8 438.7 1317.5 439.3 1320.5 428C1323.5 416.7 1322.2 422 1325.5 410C1328.8 398 1327.2 404 1330.5 392C1333.8 380 1333.8 380 1335.5 374" fill="none" stroke="#bcbcbc" stroke-width="1.9"/>
</g>
<rect x="1232.5" y="46" width="141" height="398" fill="none" stroke="#6f6f6f" stroke-width="2.4"/>
<line x1="1285.1" y1="46" x2="1285.1" y2="444" stroke="#6f6f6f" stroke-width="2.3" />
<line x1="1314.7" y1="46" x2="1314.7" y2="444" stroke="#6f6f6f" stroke-width="2.3" />
<line x1="1232.5" y1="217" x2="1373.5" y2="217" stroke="#6a6a6a" stroke-width="1.7" stroke-dasharray="3.8 2.4"/>
<path d="M1232.5 60C1242.1 60 1251.2 114 1260 114C1265 114 1268.8 105 1272 99C1275.2 93 1281.5 93.5 1291.5 93.5C1299.7 93.5 1308 117.5 1315 117.5C1319.4 117.5 1321.6 110 1326 110C1332.8 110 1337 134 1343 134C1352.8 134 1362.8 60 1373.5 60" fill="none" stroke="#e6353c" stroke-width="2.9" stroke-linejoin="round"/>
<path d="M1232.5 190C1245.6 190 1256.7 272 1267 272C1273 272 1278.1 259.5 1285.1 258C1288.1 248 1301 231 1313 217.8C1314.3 216.4 1315.7 216.4 1317 217.8C1325 235 1333 266 1344 266C1353.4 266 1362.3 190 1373.5 190" fill="none" stroke="#3b4a9c" stroke-width="2.9" stroke-linejoin="round"/>
<text class="serif" x="1231" y="466.8" font-size="23" fill="#0a0a0a" stroke="#0a0a0a" stroke-width="0.75">Γ</text>
<text class="serif" x="1285.7" y="466.8" font-size="23" fill="#0a0a0a" stroke="#0a0a0a" stroke-width="0.75" text-anchor="middle" textLength="18" lengthAdjust="spacingAndGlyphs">M</text>
<text class="serif" x="1315.2" y="466.8" font-size="23" fill="#0a0a0a" stroke="#0a0a0a" stroke-width="0.75" text-anchor="middle" textLength="15" lengthAdjust="spacingAndGlyphs">K</text>
<text class="serif" x="1366" y="466.8" font-size="23" fill="#0a0a0a" stroke="#0a0a0a" stroke-width="0.75">Γ</text>
<g clip-path="url(#cb2)">
<path d="M1402.5 52C1405.2 54.7 1405.2 52 1410.5 60C1415.8 68 1413.2 66 1418.5 76C1423.8 86 1421.2 82.7 1426.5 90C1431.8 97.3 1429.8 97.3 1434.5 98C1439.2 98.7 1438.5 94 1440.5 92" fill="none" stroke="#c6c6c6" stroke-width="1.9"/><path d="M1404.5 50C1407.2 55.3 1407.2 54.7 1412.5 66C1417.8 77.3 1414.5 74 1420.5 84C1426.5 94 1424.5 90.7 1430.5 96C1436.5 101.3 1433.2 102 1438.5 100C1443.8 98 1441.8 98.7 1446.5 90C1451.2 81.3 1448.5 83.3 1452.5 74C1456.5 64.7 1456.5 66 1458.5 62" fill="none" stroke="#c6c6c6" stroke-width="1.9"/><path d="M1418.5 46C1417.8 49.3 1418.5 50 1416.5 56C1414.5 62 1413.8 61.3 1412.5 64" fill="none" stroke="#c6c6c6" stroke-width="1.9"/><path d="M1432.5 46C1431.2 50 1431.8 49.3 1428.5 58C1425.2 66.7 1424.5 67.3 1422.5 72" fill="none" stroke="#c6c6c6" stroke-width="1.9"/><path d="M1438.5 92C1441.2 85.3 1441.2 83.3 1446.5 72C1451.8 60.7 1449.2 64.7 1454.5 58C1459.8 51.3 1457.8 56 1462.5 52C1467.2 48 1466.5 48 1468.5 46" fill="none" stroke="#c6c6c6" stroke-width="1.9"/><path d="M1454.5 64C1457.2 63.3 1457.2 65.3 1462.5 62C1467.8 58.7 1466.5 58 1470.5 54C1474.5 50 1471.2 48 1474.5 50C1477.8 52 1476.5 54 1480.5 60C1484.5 66 1481.8 66 1486.5 68C1491.2 70 1489.2 64.7 1494.5 66C1499.8 67.3 1496.5 66.7 1502.5 72C1508.5 77.3 1505.8 80 1512.5 82C1519.2 84 1516.5 84 1522.5 78C1528.5 72 1525.2 72.7 1530.5 64C1535.8 55.3 1534.2 56.7 1538.5 52C1542.8 47.3 1541.8 50.7 1543.5 50" fill="none" stroke="#c6c6c6" stroke-width="1.9"/><path d="M1496.5 46C1498.5 50 1497.8 49.3 1502.5 58C1507.2 66.7 1505.2 64.7 1510.5 72C1515.8 79.3 1513.2 79.3 1518.5 80C1523.8 80.7 1523.8 76 1526.5 74" fill="none" stroke="#c6c6c6" stroke-width="1.9"/><path d="M1516.5 46C1518.5 48.7 1517.8 49.3 1522.5 54C1527.2 58.7 1525.8 59.3 1530.5 60C1535.2 60.7 1534.5 57.3 1536.5 56" fill="none" stroke="#c6c6c6" stroke-width="1.9"/><path d="M1486.5 110C1488.5 105.3 1488.5 104 1492.5 96C1496.5 88 1495.2 88.7 1498.5 86C1501.8 83.3 1499.2 84 1502.5 88C1505.8 92 1504.5 93.3 1508.5 98C1512.5 102.7 1510.5 102.7 1514.5 102C1518.5 101.3 1516.5 102 1520.5 96C1524.5 90 1524.5 88 1526.5 84" fill="none" stroke="#c6c6c6" stroke-width="1.9"/><path d="M1402.5 238C1405.5 237.7 1406.5 235.2 1411.5 237C1416.5 238.8 1413.2 236.5 1417.5 243.5C1421.8 250.5 1422.2 253.2 1424.5 258" fill="none" stroke="#bebebe" stroke-width="1.9"/><path d="M1543.5 238C1541.5 237.7 1541.8 236 1537.5 237C1533.2 238 1534.2 237.3 1530.5 241C1526.8 244.7 1527.8 245.7 1526.5 248" fill="none" stroke="#bebebe" stroke-width="1.9"/><path d="M1455.1 261C1458.6 256 1459.2 254.7 1465.5 246C1471.8 237.3 1467.4 243 1473.9 235C1480.4 227 1481.3 226.3 1485 222" fill="none" stroke="#bebebe" stroke-width="1.9"/><path d="M1402.5 271C1405.5 269.3 1406.5 268 1411.5 266C1416.5 264 1413.2 263 1417.5 265C1421.8 267 1419.5 263.7 1424.5 272C1429.5 280.3 1427.2 277.3 1432.5 290C1437.8 302.7 1435.2 299.3 1440.5 310C1445.8 320.7 1443.6 316.7 1448.5 322C1453.4 327.3 1450.4 324.3 1455.1 326C1459.8 327.7 1457.4 325 1462.5 327C1467.6 329 1465.2 327.7 1470.5 332C1475.8 336.3 1473.8 336 1478.5 340C1483.2 344 1482.5 342.7 1484.5 344" fill="none" stroke="#a0a0a0" stroke-width="2.0"/><path d="M1402.5 299C1403.3 301 1402 298.7 1405 305C1408 311.3 1407.2 309.3 1411.5 318C1415.8 326.7 1415.2 328 1418 331C1420.8 334 1417.8 333.3 1420 327C1422.2 320.7 1420.3 322.7 1424.5 312C1428.7 301.3 1426.8 306.5 1432.5 295C1438.2 283.5 1435.8 287.5 1441.5 277.5C1447.2 267.5 1445 271.8 1449.5 265C1454 258.2 1453.2 259.7 1455.1 257" fill="none" stroke="#a0a0a0" stroke-width="2.0"/><path d="M1402.5 288C1405.5 286 1405.7 283.3 1411.5 282C1417.3 280.7 1414.3 279 1420 284C1425.7 289 1422.8 287.7 1428.5 297C1434.2 306.3 1431.3 303.7 1437 312C1442.7 320.3 1439.5 317.1 1445.5 322C1451.5 326.9 1448.8 322.3 1455.1 326.6C1461.4 330.9 1457.7 330.9 1464.5 335C1471.3 339.1 1468.8 334.7 1475.5 339C1482.2 343.3 1479.5 346.3 1484.5 348C1489.5 349.7 1486.5 349.7 1490.5 344C1494.5 338.3 1491.5 342.5 1496.5 331C1501.5 319.5 1499.8 323.8 1505.5 309.5C1511.2 295.2 1507.8 297.8 1513.5 288C1519.2 278.2 1516.8 282 1522.5 280C1528.2 278 1523.5 277.1 1530.5 282C1537.5 286.9 1539.2 290.4 1543.5 294.6" fill="none" stroke="#a0a0a0" stroke-width="2.0"/><path d="M1484.5 341.5C1487.2 336.5 1487 340.1 1492.5 326.6C1498 313.1 1495.3 317.4 1501 301C1506.7 284.6 1503.8 289.2 1509.5 277.5C1515.2 265.8 1512.3 271.3 1518 266C1523.7 260.7 1520.8 260.6 1526.5 261.6C1532.2 262.6 1529.4 258.7 1535.1 269C1540.8 279.3 1540.7 284.7 1543.5 292.5" fill="none" stroke="#bebebe" stroke-width="1.9"/><path d="M1402.5 362C1405.5 357.7 1406.2 356.3 1411.5 349C1416.8 341.7 1415.3 344 1418.5 340C1421.7 336 1417.7 333 1421 337C1424.3 341 1423.2 339.8 1428.5 352C1433.8 364.2 1431.3 361.3 1437 373.5C1442.7 385.7 1439.5 381 1445.5 388.5C1451.5 396 1449.4 393.2 1455.1 396C1460.8 398.8 1457.9 397.7 1462.5 397C1467.1 396.3 1464.7 392.7 1469 394C1473.3 395.3 1470.3 392.2 1475.5 401C1480.7 409.8 1481.5 414 1484.5 420.5" fill="none" stroke="#a0a0a0" stroke-width="2.0"/><path d="M1402.5 362C1405.5 368.7 1405.7 367.5 1411.5 382C1417.3 396.5 1414.3 389.8 1420 405.5C1425.7 421.2 1424.3 416.2 1428.5 429C1432.7 441.8 1431.2 439 1432.5 444" fill="none" stroke="#a0a0a0" stroke-width="2.0"/><path d="M1405 369C1408.5 378.3 1409 379.2 1415.5 397C1422 414.8 1419.8 406.8 1424.5 422.5C1429.2 438.2 1427.8 436.8 1429.5 444" fill="none" stroke="#bebebe" stroke-width="1.9"/><path d="M1421 337C1422.2 343.5 1422 341.5 1424.5 356.5C1427 371.5 1425.8 363.5 1428.5 382C1431.2 400.5 1430.3 391.3 1432.5 412C1434.7 432.7 1434.2 433.3 1435 444" fill="none" stroke="#bebebe" stroke-width="1.9"/><path d="M1455.1 262.6C1456.9 269.7 1456.5 266.2 1460.5 284C1464.5 301.8 1462.7 291.1 1467 316C1471.3 340.9 1469.3 330.3 1473.5 358.6C1477.7 386.9 1475.8 379.7 1479.5 401C1483.2 422.3 1482.8 415.3 1484.5 422.5" fill="none" stroke="#bebebe" stroke-width="1.9"/><path d="M1456.5 273C1459.2 289.3 1459.6 294.2 1464.5 322C1469.4 349.8 1466.8 335.2 1471.1 356.5C1475.4 377.8 1473.2 367.5 1477.5 386C1481.8 404.5 1481.8 403.3 1484 412" fill="none" stroke="#bebebe" stroke-width="1.9"/><path d="M1488.5 444C1489.7 436 1489 437.3 1492 420C1495 402.7 1493.5 410.7 1497.5 392C1501.5 373.3 1499.7 381.2 1504 364C1508.3 346.8 1506.8 352.5 1510.5 340.5C1514.2 328.5 1512.5 333.7 1515 328C1517.5 322.3 1515.7 323.1 1518 323.4C1520.3 323.7 1519.2 324.5 1522 329C1524.8 333.5 1523.7 330.7 1526.5 337C1529.3 343.3 1526.9 340.8 1530.5 348C1534.1 355.2 1532.9 352.9 1537.2 358.6C1541.5 364.3 1541.4 362.9 1543.5 365" fill="none" stroke="#a0a0a0" stroke-width="2.0"/><path d="M1526.5 341.5C1525.2 347.2 1525.3 345.8 1522.5 358.6C1519.7 371.4 1521.7 363.7 1518 380C1514.3 396.3 1515.7 389.9 1511.5 407.6C1507.3 425.3 1508.7 420.9 1505.5 433C1502.3 445.1 1503.2 440.3 1502 444" fill="none" stroke="#a0a0a0" stroke-width="2.0"/><path d="M1543.5 365C1541.4 370.7 1541.5 369.3 1537.2 382C1532.9 394.7 1534.7 388.8 1530.5 403C1526.3 417.2 1528.7 411 1524.5 424.7C1520.3 438.4 1520.2 437.6 1518 444" fill="none" stroke="#a0a0a0" stroke-width="2.0"/><path d="M1543.5 296.8C1541.4 301 1541.5 298.1 1537.2 309.5C1532.9 320.9 1534.1 320.3 1530.5 331C1526.9 341.7 1527.8 338 1526.5 341.5" fill="none" stroke="#a0a0a0" stroke-width="2.0"/><path d="M1543.5 309.5C1540.7 319.5 1540.1 319.6 1535.1 339.4C1530.1 359.2 1532.7 350.5 1528.5 369C1524.3 387.5 1527.5 377.2 1522.5 395C1517.5 412.8 1518.5 406.2 1513.5 422.5C1508.5 438.8 1509.5 436.8 1507.5 444" fill="none" stroke="#bebebe" stroke-width="1.9"/><path d="M1484.5 384C1487.2 384.3 1487.7 385.7 1492.5 385C1497.3 384.3 1494.6 384.4 1498.9 382C1503.2 379.6 1503.3 379.2 1505.5 377.8" fill="none" stroke="#bebebe" stroke-width="1.9"/><path d="M1484.5 390.6C1486.5 392.7 1485.7 395.5 1490.5 397C1495.3 398.5 1493.2 397.1 1498.9 395C1504.6 392.9 1502.6 394.9 1507.5 390.6C1512.4 386.3 1511.5 384.9 1513.5 382" fill="none" stroke="#bebebe" stroke-width="1.9"/><path d="M1488.2 407.6C1491 409.1 1490.7 409.9 1496.5 412C1502.3 414.1 1500.5 415.5 1505.5 414C1510.5 412.5 1509.5 409.7 1511.5 407.6" fill="none" stroke="#bebebe" stroke-width="1.9"/><path d="M1486.1 422.5C1488.9 423.2 1488.8 422.5 1494.5 424.7C1500.2 426.9 1498.1 429 1503.1 429C1508.1 429 1507.4 426.1 1509.5 424.7" fill="none" stroke="#bebebe" stroke-width="1.9"/><path d="M1432.5 435.4C1436.2 436.1 1436 437.2 1443.5 437.5C1451 437.8 1448.1 437.9 1455.1 436.4C1462.1 434.9 1458.4 433.3 1464.5 433C1470.6 432.7 1468.5 431.7 1473.5 435.4C1478.5 439.1 1477.5 441.1 1479.5 444" fill="none" stroke="#bebebe" stroke-width="1.9"/><path d="M1455.1 396C1457.6 396.7 1457.9 397 1462.5 398C1467.1 399 1465.3 396.5 1469 399C1472.7 401.5 1470 399.2 1473.5 405.5C1477 411.8 1477.5 413.8 1479.5 418" fill="none" stroke="#bebebe" stroke-width="1.9"/>
</g>
<rect x="1402.5" y="46" width="141" height="398" fill="none" stroke="#6f6f6f" stroke-width="2.4"/>
<line x1="1455.1" y1="46" x2="1455.1" y2="444" stroke="#6f6f6f" stroke-width="2.3" />
<line x1="1484.7" y1="46" x2="1484.7" y2="444" stroke="#6f6f6f" stroke-width="2.3" />
<line x1="1402.5" y1="217" x2="1543.5" y2="217" stroke="#6a6a6a" stroke-width="1.7" stroke-dasharray="3.8 2.4"/>
<path d="M1402.5 57C1411.8 57 1420.5 107.5 1429 107.5C1434 107.5 1436.8 102.5 1440 96.5C1443.2 90.5 1451.5 90 1461.5 90C1469.7 90 1478 115.6 1485 115.6C1489.8 115.6 1492.2 104.5 1497 104.5C1503.4 104.5 1507.4 125.6 1513 125.6C1522.8 125.6 1532.8 57 1543.5 57" fill="none" stroke="#e6353c" stroke-width="2.9" stroke-linejoin="round"/>
<path d="M1402.5 197C1415.8 197 1427 272 1437.5 272C1443.5 272 1448.1 258.5 1455.1 257C1458.1 247 1471 231 1483 217.8C1484.3 216.4 1485.7 216.4 1487 217.8C1495 235 1502.5 264 1513.5 264C1523.1 264 1532.1 197 1543.5 197" fill="none" stroke="#3b4a9c" stroke-width="2.9" stroke-linejoin="round"/>
<text class="serif" x="1401" y="466.8" font-size="23" fill="#0a0a0a" stroke="#0a0a0a" stroke-width="0.75">Γ</text>
<text class="serif" x="1455.7" y="466.8" font-size="23" fill="#0a0a0a" stroke="#0a0a0a" stroke-width="0.75" text-anchor="middle" textLength="18" lengthAdjust="spacingAndGlyphs">M</text>
<text class="serif" x="1485.2" y="466.8" font-size="23" fill="#0a0a0a" stroke="#0a0a0a" stroke-width="0.75" text-anchor="middle" textLength="15" lengthAdjust="spacingAndGlyphs">K</text>
<text class="serif" x="1536" y="466.8" font-size="23" fill="#0a0a0a" stroke="#0a0a0a" stroke-width="0.75">Γ</text>
<g clip-path="url(#cb3)">
<path d="M1572.5 48C1575.2 51.3 1575.2 51.3 1580.5 58C1585.8 64.7 1583.2 58.7 1588.5 68C1593.8 77.3 1591.8 77.3 1596.5 86C1601.2 94.7 1600.5 91.3 1602.5 94" fill="none" stroke="#c6c6c6" stroke-width="1.9"/><path d="M1598.5 46C1597.2 49.3 1597.8 49.3 1594.5 56C1591.2 62.7 1590.5 62.7 1588.5 66" fill="none" stroke="#c6c6c6" stroke-width="1.9"/><path d="M1602.5 94C1605.2 89.3 1605.2 89.3 1610.5 80C1615.8 70.7 1613.2 73.3 1618.5 66C1623.8 58.7 1621.2 62.7 1626.5 58C1631.8 53.3 1629.2 56 1634.5 52C1639.8 48 1639.8 48 1642.5 46" fill="none" stroke="#c6c6c6" stroke-width="1.9"/><path d="M1624.5 60C1627.2 58.7 1627.8 60 1632.5 56C1637.2 52 1636.5 50.7 1638.5 48" fill="none" stroke="#c6c6c6" stroke-width="1.9"/><path d="M1664.5 46C1666.5 50 1665.8 49.3 1670.5 58C1675.2 66.7 1673.2 65.3 1678.5 72C1683.8 78.7 1681.2 78 1686.5 78C1691.8 78 1689.2 78.7 1694.5 72C1699.8 65.3 1697.8 65.3 1702.5 58C1707.2 50.7 1704.8 52.7 1708.5 50C1712.2 47.3 1711.8 50 1713.5 50" fill="none" stroke="#c6c6c6" stroke-width="1.9"/><path d="M1666.5 50C1669.2 55.3 1669.2 57.3 1674.5 66C1679.8 74.7 1677.8 71.3 1682.5 76C1687.2 80.7 1686.5 78.7 1688.5 80" fill="none" stroke="#c6c6c6" stroke-width="1.9"/><path d="M1625.8 260C1629 255.3 1629.3 254.3 1635.5 246C1641.7 237.7 1637.8 243 1644.5 235C1651.2 227 1651.8 226.3 1655.5 222" fill="none" stroke="#c4c4c4" stroke-width="1.9"/><path d="M1572.5 288C1574.6 285.2 1574.3 283.7 1578.9 279.7C1583.5 275.7 1581.4 275.2 1586.4 275.9C1591.4 276.6 1588.5 274.1 1593.8 281.8C1599.1 289.5 1596.7 288.2 1602.4 298.9C1608.1 309.6 1605.2 305.6 1610.9 313.8C1616.6 322 1614.4 319.1 1619.4 323.4C1624.4 327.7 1620.1 325.5 1625.8 326.6C1631.5 327.7 1629.4 323.8 1636.5 326.6C1643.6 329.4 1640.8 329.3 1647.1 335C1653.4 340.7 1652.7 340.8 1655.5 343.7" fill="none" stroke="#c4c4c4" stroke-width="1.9"/><path d="M1572.5 292.5C1574.6 296.7 1574.6 295.8 1578.9 305C1583.2 314.2 1581.1 312.1 1585.3 320C1589.5 327.9 1587.2 330.8 1591.5 328.7C1595.8 326.6 1593.8 325.2 1598.1 313.8C1602.4 302.4 1600.2 306.7 1604.5 294.6C1608.8 282.5 1607.4 285.5 1610.9 277.6C1614.4 269.7 1613.7 273.2 1615.1 271" fill="none" stroke="#c4c4c4" stroke-width="1.9"/><path d="M1655.5 343.7C1657.7 340.8 1657 345 1662 335C1667 325 1664.8 328.7 1670.5 313.8C1676.2 298.9 1673.4 303.9 1679.1 290.4C1684.8 276.9 1681.8 280.4 1687.5 273.3C1693.2 266.2 1690.5 268.3 1696.2 269C1701.9 269.7 1698.5 267.6 1704.5 275.4C1710.5 283.2 1711 286.8 1714.3 292.5" fill="none" stroke="#c4c4c4" stroke-width="1.9"/><path d="M1572.5 358.6C1574.6 356.4 1574.6 357.7 1578.9 352C1583.2 346.3 1581.1 346.8 1585.3 341.5C1589.5 336.2 1587.9 335.3 1591.5 336C1595.1 336.7 1592.4 335.5 1596 343.7C1599.6 351.9 1597.4 349.3 1602.4 360.7C1607.4 372.1 1605.2 368.6 1610.9 377.8C1616.6 387 1613.7 382.7 1619.4 388.4C1625.1 394.1 1622.2 391.9 1627.9 394.8C1633.6 397.7 1630.8 397.7 1636.5 397C1642.2 396.3 1640 396.3 1645 392.7C1650 389.1 1648 389.2 1651.5 386.3C1655 383.4 1652 382.6 1655.5 384C1659 385.4 1657.7 384.9 1662 390.6C1666.3 396.3 1663.5 395.3 1668.5 401C1673.5 406.7 1672 406.8 1677 407.6C1682 408.4 1679.3 409.1 1683.5 403.4C1687.7 397.7 1685.3 402.1 1689.5 390.6C1693.7 379.1 1691.9 383.2 1696.2 369C1700.5 354.8 1698.2 362.1 1702.5 348C1706.8 333.9 1705.1 338.7 1709 326.6C1712.9 314.5 1712.5 316.7 1714.3 311.7" fill="none" stroke="#c4c4c4" stroke-width="1.9"/><path d="M1572.5 360.7C1574.6 359.3 1575.3 359 1578.9 356.5C1582.5 354 1580.3 351.9 1583.2 353.3C1586.1 354.7 1584 351.1 1587.5 360.7C1591 370.3 1589.6 366.4 1593.8 382C1598 397.6 1596 391.9 1600.2 407.6C1604.4 423.3 1602.2 416.9 1606.5 429C1610.8 441.1 1610.8 439 1613 444" fill="none" stroke="#c4c4c4" stroke-width="1.9"/><path d="M1572.5 365C1574.6 370.7 1574.6 369.2 1578.9 382C1583.2 394.8 1580.3 388.5 1585.3 403.4C1590.3 418.3 1588.1 413.3 1593.8 426.8C1599.5 440.3 1599.5 438.3 1602.4 444" fill="none" stroke="#c4c4c4" stroke-width="1.9"/><path d="M1625.8 260.5C1627.9 270.5 1628.6 271.9 1632.2 290.4C1635.8 308.9 1633.7 296.8 1636.5 316C1639.3 335.2 1637.2 324.6 1640.7 348C1644.2 371.4 1642.8 363.6 1647.1 386.3C1651.4 409 1650.7 403.9 1653.5 416C1656.3 428.1 1654.8 420.3 1655.5 422.5" fill="none" stroke="#c4c4c4" stroke-width="1.9"/><path d="M1664.2 444C1665.6 436.8 1665 440.3 1668.5 422.5C1672 404.7 1670.6 415.4 1674.8 390.6C1679 365.8 1677.6 369.3 1681.2 348C1684.8 326.7 1683.1 335.2 1685.5 326.6C1687.9 318 1686.4 322.3 1688.5 322.3C1690.6 322.3 1689.3 321.6 1691.9 326.6C1694.5 331.6 1693.3 332.3 1696.2 337.3C1699.1 342.3 1699.1 340.1 1700.5 341.5" fill="none" stroke="#c4c4c4" stroke-width="1.9"/><path d="M1696.2 339.4C1698.3 342.3 1698.2 345.9 1702.5 348C1706.8 350.1 1705.1 347.2 1709 345.8C1712.9 344.4 1712.5 344.4 1714.3 343.7" fill="none" stroke="#c4c4c4" stroke-width="1.9"/><path d="M1714.3 354.3C1712.5 355 1712.3 356.5 1709 356.5C1705.7 356.5 1707.3 351.5 1704.5 354.3C1701.7 357.1 1704 352.9 1700.5 365C1697 377.1 1698.3 373.6 1694 390.6C1689.7 407.6 1691.8 398.2 1687.5 416C1683.2 433.8 1683.3 434.7 1681.2 444" fill="none" stroke="#c4c4c4" stroke-width="1.9"/><path d="M1714.3 365C1712.5 370.7 1712.9 369.2 1709 382C1705.1 394.8 1706.8 389.2 1702.5 403.4C1698.2 417.6 1700.5 411.2 1696.2 424.7C1691.9 438.2 1691.7 437.6 1689.5 444" fill="none" stroke="#c4c4c4" stroke-width="1.9"/><path d="M1655.5 418.3C1657.7 419.7 1657.7 421.8 1662 422.5C1666.3 423.2 1663.5 419 1668.5 420.4C1673.5 421.8 1672 423.3 1677 426.8C1682 430.3 1679.3 432.4 1683.5 431C1687.7 429.6 1687.5 425.3 1689.5 422.5" fill="none" stroke="#c4c4c4" stroke-width="1.9"/><path d="M1642.9 444C1644.3 442.5 1644.2 440.7 1647.1 439.6C1650 438.5 1649 439.2 1651.5 440.7C1654 442.2 1653.5 442.9 1654.5 444" fill="none" stroke="#c4c4c4" stroke-width="1.9"/><path d="M1593.8 426.8C1597.4 430.4 1598.1 432.5 1604.5 437.5C1610.9 442.5 1610.2 440.3 1613 441.7" fill="none" stroke="#c4c4c4" stroke-width="1.9"/>
</g>
<rect x="1572.5" y="46" width="141" height="398" fill="none" stroke="#6f6f6f" stroke-width="2.4"/>
<line x1="1625.1" y1="46" x2="1625.1" y2="444" stroke="#6f6f6f" stroke-width="2.3" />
<line x1="1654.7" y1="46" x2="1654.7" y2="444" stroke="#6f6f6f" stroke-width="2.3" />
<line x1="1572.5" y1="217" x2="1713.5" y2="217" stroke="#6a6a6a" stroke-width="1.7" stroke-dasharray="3.8 2.4"/>
<path d="M1572.5 53C1581.4 53 1589.8 98 1598 98C1603 98 1602.8 98.5 1606 92.5C1609.2 86.5 1622 88 1632 88C1640 88 1648.1 114 1655 114C1660.8 114 1663.7 93.6 1669.5 93.6C1675.1 93.6 1678.6 111.6 1683.5 111.6C1693.1 111.6 1703 53 1713.5 53" fill="none" stroke="#e6353c" stroke-width="2.9" stroke-linejoin="round"/>
<path d="M1572.5 225C1585.8 225 1597 275 1607.5 275C1613.5 275 1618.1 257.5 1625.1 256C1628.1 246 1641 231 1653 217.8C1654.3 216.4 1655.7 216.4 1657 217.8C1665 235 1672.5 263 1683.5 263C1693.1 263 1702.1 226 1713.5 226" fill="none" stroke="#3b4a9c" stroke-width="2.9" stroke-linejoin="round"/>
<text class="serif" x="1571" y="466.8" font-size="23" fill="#0a0a0a" stroke="#0a0a0a" stroke-width="0.75">Γ</text>
<text class="serif" x="1625.7" y="466.8" font-size="23" fill="#0a0a0a" stroke="#0a0a0a" stroke-width="0.75" text-anchor="middle" textLength="18" lengthAdjust="spacingAndGlyphs">M</text>
<text class="serif" x="1655.2" y="466.8" font-size="23" fill="#0a0a0a" stroke="#0a0a0a" stroke-width="0.75" text-anchor="middle" textLength="15" lengthAdjust="spacingAndGlyphs">K</text>
<text class="serif" x="1706" y="466.8" font-size="23" fill="#0a0a0a" stroke="#0a0a0a" stroke-width="0.75">Γ</text>
<line x1="1202.5" y1="186" x2="1178.7" y2="147" stroke="#000" stroke-width="2.2" /><path d="M1175 141L1182.9 146.7L1176.5 150.7z" fill="#000"/>
<line x1="1373" y1="189" x2="1348.4" y2="145.1" stroke="#000" stroke-width="2.2" /><path d="M1345 139L1352.7 145L1346.1 148.7z" fill="#000"/>
<line x1="1542.5" y1="194.5" x2="1518.6" y2="135.5" stroke="#000" stroke-width="2.2" /><path d="M1516 129L1522.9 135.9L1515.9 138.8z" fill="#000"/>
<line x1="1656.8" y1="213" x2="1656.8" y2="125" stroke="#000" stroke-width="2.7" /><path d="M1656.8 118L1660.8 127L1652.8 127z" fill="#000"/>
<line x1="1710" y1="211" x2="1689.4" y2="121.8" stroke="#cdcdcd" stroke-width="1.6" /><path d="M1688 116L1692.9 123.1L1686.7 124.5z" fill="#cdcdcd"/>
<text x="2.2" y="525" font-size="51.5" font-weight="bold" fill="#000" stroke="#000" stroke-width="0.3" textLength="27.2" lengthAdjust="spacingAndGlyphs">c</text>
<ellipse cx="250.4" cy="839" rx="25.3" ry="104.3" fill="url(#gGr)" stroke="#968d84" stroke-width="2"/>
<ellipse cx="341.5" cy="796.5" rx="27.5" ry="171.5" fill="url(#gOr)" stroke="#e09c48" stroke-width="2"/>
<ellipse cx="367.8" cy="823" rx="32" ry="140.6" transform="rotate(13.2 367.8 823)" fill="url(#gCy)" stroke="#62b4e0" stroke-width="2"/>
<ellipse cx="527" cy="834.2" rx="245" ry="31.8" transform="rotate(-28.9 527 834.2)" fill="url(#gPu)" stroke="#a25ad4" stroke-width="2"/>
<line x1="207" y1="777.6" x2="437" y2="777.6" stroke="#555555" stroke-width="3" />
<line x1="207" y1="899.6" x2="437" y2="899.6" stroke="#555555" stroke-width="3" />
<path d="M243.5 588Q342 755 440.5 588" fill="none" stroke="#c8343f" stroke-width="4.2" stroke-linecap="butt"/>
<path d="M244.5 673Q342.5 838 441 673" fill="none" stroke="#3a35c0" stroke-width="4.2" stroke-linecap="butt"/>
<path d="M608 684.5Q710 814.5 808 684.5" fill="none" stroke="#c8343f" stroke-width="3.8" stroke-linecap="butt"/>
<path d="M245 1005Q342 838 437.5 1005" fill="none" stroke="#c8343f" stroke-width="4.2" stroke-linecap="butt"/>
<path d="M347 816.5V803.4H817" fill="none" stroke="#111" stroke-width="2.4"/>
<path d="M836 803.4L815.5 796.6V810.2z" fill="#111"/>
<line x1="709" y1="803.4" x2="709" y2="817" stroke="#111" stroke-width="3.2" />
<line x1="347" y1="803.4" x2="347" y2="817" stroke="#111" stroke-width="3.2" />
<circle cx="341.5" cy="655" r="12" fill="url(#gEl)" stroke="#8ab4e6" stroke-width="1"/><text x="341.5" y="663.6" font-size="25" font-weight="bold" fill="#eef4fc" text-anchor="middle">−</text>
<circle cx="393" cy="709" r="12" fill="url(#gEl)" stroke="#8ab4e6" stroke-width="1"/><text x="393" y="717.6" font-size="25" font-weight="bold" fill="#eef4fc" text-anchor="middle">−</text>
<circle cx="249.8" cy="761" r="12" fill="url(#gEl)" stroke="#8ab4e6" stroke-width="1"/><text x="249.8" y="769.6" font-size="25" font-weight="bold" fill="#eef4fc" text-anchor="middle">−</text>
<circle cx="709.5" cy="733" r="12.5" fill="#a9c6f2" stroke="#93b6ea" stroke-width="1.2"/><text x="709.5" y="741.6" font-size="25" font-weight="bold" fill="#f4f8fe" text-anchor="middle">−</text>
<circle cx="250.5" cy="916" r="12.5" fill="url(#gHo)" stroke="#d98790" stroke-width="1"/><text x="250.5" y="925.7" font-size="28" font-weight="bold" fill="#fbeff0" text-anchor="middle">+</text>
<circle cx="342" cy="938" r="12.5" fill="url(#gHo)" stroke="#d98790" stroke-width="1"/><text x="342" y="947.7" font-size="28" font-weight="bold" fill="#fbeff0" text-anchor="middle">+</text>
<line x1="227.2" y1="613" x2="227.2" y2="592.5" stroke="#c8343f" stroke-width="3.6" /><path d="M227.2 576.5L219.6 594.5L234.8 594.5z" fill="#c8343f"/>
<line x1="227.2" y1="667" x2="227.2" y2="685.5" stroke="#3a35c0" stroke-width="3.6" /><path d="M227.2 701.5L219.6 683.5L234.8 683.5z" fill="#3a35c0"/>
<line x1="227.4" y1="1017" x2="227.4" y2="996" stroke="#c8343f" stroke-width="3.6" /><path d="M227.4 980L219.8 998L235 998z" fill="#c8343f"/>
<line x1="828.3" y1="701" x2="828.3" y2="680" stroke="#c8343f" stroke-width="3.6" /><path d="M828.3 664L820.7 682L835.9 682z" fill="#c8343f"/>
<text x="345.5" y="582" font-size="24" fill="#e8a242" stroke="#e8a242" stroke-width="0.35" text-anchor="middle" textLength="63" lengthAdjust="spacingAndGlyphs">bright</text>
<text x="345.5" y="610" font-size="24" fill="#e8a242" stroke="#e8a242" stroke-width="0.35" text-anchor="middle" textLength="77" lengthAdjust="spacingAndGlyphs">exciton</text>
<text x="500.5" y="731" font-size="24.5" fill="#63bde6" stroke="#63bde6" stroke-width="0.35" text-anchor="middle" textLength="159" lengthAdjust="spacingAndGlyphs">spin-forbidden</text>
<text x="500.5" y="758" font-size="24.5" fill="#63bde6" stroke="#63bde6" stroke-width="0.35" text-anchor="middle" textLength="131" lengthAdjust="spacingAndGlyphs">dark exciton</text>
<text transform="translate(179 837.5) rotate(-90)" font-size="24" fill="#9b9187" stroke="#9b9187" stroke-width="0.35" text-anchor="middle" textLength="91" lengthAdjust="spacingAndGlyphs">localized</text>
<text transform="translate(206 837) rotate(-90)" font-size="24" fill="#9b9187" stroke="#9b9187" stroke-width="0.35" text-anchor="middle" textLength="76" lengthAdjust="spacingAndGlyphs">exciton</text>
<g transform="translate(544.3 896.2) rotate(-27.9)"><text x="0" y="0" font-size="24.5" fill="#a968d8" stroke="#a968d8" stroke-width="0.35" text-anchor="middle" textLength="242" lengthAdjust="spacingAndGlyphs">momentum-forbidden</text><text x="0" y="27" font-size="24.5" fill="#a968d8" stroke="#a968d8" stroke-width="0.35" text-anchor="middle" textLength="131" lengthAdjust="spacingAndGlyphs">dark exciton</text></g>
<text x="348.7" y="845" font-size="30" fill="#111" stroke="#111" stroke-width="0.5" text-anchor="middle" textLength="15.5" lengthAdjust="spacingAndGlyphs">K</text>
<text class="serif" x="709" y="845" font-size="31" fill="#111" text-anchor="middle" textLength="20" lengthAdjust="spacingAndGlyphs">Λ</text>
<text x="813.5" y="838" font-size="30" fill="#111" text-anchor="middle" textLength="12" lengthAdjust="spacingAndGlyphs">k</text>
<text x="968.2" y="525.8" font-size="50" font-weight="bold" fill="#000" stroke="#000" stroke-width="0.2">d</text>
<rect x="1119.8" y="528.6" width="551.8" height="446.8" fill="none" stroke="#000" stroke-width="4.3"/>
<line x1="1110.8" y1="528.5" x2="1119.8" y2="528.5" stroke="#000" stroke-width="3.9" /><line x1="1106.6" y1="561.6" x2="1119.8" y2="561.6" stroke="#000" stroke-width="3.9" /><line x1="1112" y1="593.4" x2="1119.8" y2="593.4" stroke="#000" stroke-width="3.9" /><line x1="1106.6" y1="625.1" x2="1119.8" y2="625.1" stroke="#000" stroke-width="3.9" /><line x1="1112" y1="656.9" x2="1119.8" y2="656.9" stroke="#000" stroke-width="3.9" /><line x1="1106.6" y1="688.7" x2="1119.8" y2="688.7" stroke="#000" stroke-width="3.9" /><line x1="1112" y1="720.4" x2="1119.8" y2="720.4" stroke="#000" stroke-width="3.9" /><line x1="1106.6" y1="752.2" x2="1119.8" y2="752.2" stroke="#000" stroke-width="3.9" /><line x1="1112" y1="783.9" x2="1119.8" y2="783.9" stroke="#000" stroke-width="3.9" /><line x1="1106.6" y1="815.7" x2="1119.8" y2="815.7" stroke="#000" stroke-width="3.9" /><line x1="1112" y1="847.5" x2="1119.8" y2="847.5" stroke="#000" stroke-width="3.9" /><line x1="1106.6" y1="879.2" x2="1119.8" y2="879.2" stroke="#000" stroke-width="3.9" /><line x1="1112" y1="911" x2="1119.8" y2="911" stroke="#000" stroke-width="3.9" /><line x1="1106.6" y1="942.7" x2="1119.8" y2="942.7" stroke="#000" stroke-width="3.9" /><line x1="1112" y1="975.2" x2="1119.8" y2="975.2" stroke="#000" stroke-width="3.9" /><line x1="1119.8" y1="975.4" x2="1119.8" y2="984.6" stroke="#000" stroke-width="3.9" /><line x1="1181.1" y1="975.4" x2="1181.1" y2="991.2" stroke="#000" stroke-width="3.9" /><line x1="1242.4" y1="975.4" x2="1242.4" y2="984.6" stroke="#000" stroke-width="3.9" /><line x1="1303.7" y1="975.4" x2="1303.7" y2="991.2" stroke="#000" stroke-width="3.9" /><line x1="1365" y1="975.4" x2="1365" y2="984.6" stroke="#000" stroke-width="3.9" /><line x1="1426.3" y1="975.4" x2="1426.3" y2="991.2" stroke="#000" stroke-width="3.9" /><line x1="1487.6" y1="975.4" x2="1487.6" y2="984.6" stroke="#000" stroke-width="3.9" /><line x1="1548.9" y1="975.4" x2="1548.9" y2="991.2" stroke="#000" stroke-width="3.9" /><line x1="1610.2" y1="975.4" x2="1610.2" y2="984.6" stroke="#000" stroke-width="3.9" /><line x1="1671.5" y1="975.4" x2="1671.5" y2="991.2" stroke="#000" stroke-width="3.9" />
<text x="1181.1" y="1022.4" font-size="28.6" fill="#080808" stroke="#080808" stroke-width="0.55" text-anchor="middle" textLength="36.6" lengthAdjust="spacingAndGlyphs">1.4</text>
<text x="1303.7" y="1022.4" font-size="28.6" fill="#080808" stroke="#080808" stroke-width="0.55" text-anchor="middle" textLength="36.6" lengthAdjust="spacingAndGlyphs">1.6</text>
<text x="1426.3" y="1022.4" font-size="28.6" fill="#080808" stroke="#080808" stroke-width="0.55" text-anchor="middle" textLength="36.6" lengthAdjust="spacingAndGlyphs">1.8</text>
<text x="1548.9" y="1022.4" font-size="28.6" fill="#080808" stroke="#080808" stroke-width="0.55" text-anchor="middle" textLength="36.6" lengthAdjust="spacingAndGlyphs">2.0</text>
<text x="1671.5" y="1022.4" font-size="28.6" fill="#080808" stroke="#080808" stroke-width="0.55" text-anchor="middle" textLength="36.6" lengthAdjust="spacingAndGlyphs">2.2</text>
<text x="1394.6" y="1068" font-size="25.5" fill="#080808" stroke="#080808" stroke-width="0.55" text-anchor="middle" textLength="229.5" lengthAdjust="spacingAndGlyphs">Photon Energy (eV)</text>
<text transform="translate(1078.4 754.5) rotate(-90)" font-size="28" fill="#080808" stroke="#080808" stroke-width="0.55" text-anchor="middle" textLength="199.5" lengthAdjust="spacingAndGlyphs">PL Intensity (a.u.)</text>
<path d="M1119.8 943.3L1123.8 943.2L1127.8 943.2L1131.8 943.2L1135.8 943.2L1139.8 943.2L1143.8 943.2L1147.8 943.2L1151.8 943.2L1155.8 943.2L1159.8 943.1L1163.8 943.1L1167.8 943.1L1171.8 943.1L1175.8 943.1L1179.8 943.1L1183.8 943.1L1187.8 943L1191.8 943L1195.8 943L1199.8 943L1203.8 943L1207.8 942.9L1211.8 942.9L1215.8 942.9L1219.8 942.9L1223.8 942.8L1227.8 942.8L1231.8 942.8L1235.8 942.8L1239.8 942.7L1243.8 942.7L1247.8 942.7L1251.8 942.6L1255.8 942.6L1259.8 942.5L1263.8 942.5L1267.8 942.5L1271.8 942.4L1275.8 942.4L1279.8 942.3L1283.8 942.2L1287.8 942.2L1291.8 942.1L1295.8 942L1299.8 941.9L1303.8 941.8L1307.8 941.7L1311.8 941.6L1315.8 941.5L1319.8 941.3L1323.8 941.2L1327.8 941L1331.8 940.9L1335.8 940.7L1339.8 940.5L1343.8 940.3L1347.8 940L1351.8 939.7L1355.8 939.3L1359.8 938.9L1363.8 938.4L1367.8 937.9L1371.8 937.3L1375.8 936.6L1379.8 935.8L1383.8 934.9L1387.8 933.8L1391.8 932.6L1395.8 931.2L1399.8 929.8L1403.8 928.3L1407.8 926.5L1411.8 924.4L1415.8 921.9L1419.8 918.9L1420.8 918.1L1421.8 917.2L1422.8 916.3L1423.8 915.3L1424.8 914.3L1425.8 913.2L1426.8 912.1L1427.8 910.9L1428.8 909.6L1429.8 908.3L1430.8 906.9L1431.8 905.4L1432.8 903.9L1433.8 902.2L1434.8 900.4L1435.8 898.6L1436.8 896.6L1437.8 894.5L1438.8 892.2L1439.8 889.9L1440.8 887.3L1441.8 884.6L1442.8 881.7L1443.8 878.4L1444.8 874.9L1445.8 871.2L1446.8 867.2L1447.8 862.9L1448.8 858.3L1449.8 853.3L1450.8 848L1451.8 842.3L1452.8 836.2L1453.8 829.6L1454.8 822.5L1455.8 814.9L1456.8 806.7L1457.8 798L1458.8 788.7L1459.8 778.7L1460.8 770.2L1461.8 761.7L1462.8 752.4L1463.8 742.5L1464.8 731.8L1465.8 720.5L1466.3 714.5L1466.8 708.4L1467.3 702.1L1467.8 695.6L1468.3 689L1468.8 682.2L1469.3 675.3L1469.8 668.4L1470.3 661.3L1470.8 655.7L1471.3 650.2L1471.8 644.5L1472.3 638.7L1472.8 632.7L1473.3 626.7L1473.8 620.7L1474.3 613.6L1474.8 607.1L1475.3 601.4L1475.8 596.7L1476.3 593.1L1476.8 590.6L1477.3 589.2L1477.8 589.1L1478.3 590.2L1478.8 592.5L1479.3 595.9L1479.8 600.3L1480.3 605.7L1480.8 612L1481.3 618.9L1481.8 626.1L1482.3 632.8L1482.8 639.6L1483.3 646.4L1483.8 653.2L1484.3 659.8L1484.8 666.3L1485.3 672.6L1485.8 679.3L1486.3 686.8L1486.8 694.3L1487.3 701.5L1487.8 708.6L1488.3 715.6L1488.8 722.3L1489.3 728.9L1489.8 735.3L1490.8 747.4L1491.8 759.4L1492.8 773.9L1493.8 787.6L1494.8 800.4L1495.8 812.3L1496.8 823.8L1497.8 834.4L1498.8 844.2L1499.8 853.1L1500.8 861L1501.8 866.8L1502.8 872.2L1503.8 877.1L1504.8 881.6L1505.8 885.7L1506.8 889.5L1507.8 893L1508.8 896.2L1509.8 899.2L1510.8 901.9L1511.8 904.4L1512.8 906.7L1513.8 908.9L1514.8 910.9L1515.8 912.7L1516.8 914.4L1517.8 916.1L1518.8 917.5L1519.8 918.9L1520.8 920.2L1521.8 921.5L1522.8 922.6L1523.8 923.7L1524.8 924.7L1525.8 925.6L1526.8 926.5L1527.8 927.3L1528.8 928.1L1529.8 928.8L1530.8 929.4L1531.8 929.9L1532.8 930.4L1533.8 930.9L1534.8 931.3L1535.8 931.8L1536.8 932.2L1537.8 932.6L1541.8 934L1545.8 935.1L1549.8 936.1L1553.8 936.9L1557.8 937.6L1561.8 938.3L1565.8 938.8L1569.8 939.3L1573.8 939.7L1577.8 940.1L1581.8 940.4L1585.8 940.7L1589.8 940.9L1593.8 941.1L1597.8 941.2L1601.8 941.4L1605.8 941.5L1609.8 941.7L1613.8 941.8L1617.8 941.9L1621.8 942L1625.8 942.1L1629.8 942.2L1633.8 942.2L1637.8 942.3L1641.8 942.4L1645.8 942.4L1649.8 942.5L1653.8 942.6L1657.8 942.6L1661.8 942.6L1665.8 942.7L1669.8 942.7" fill="none" stroke="#f41010" stroke-width="4.2" stroke-linejoin="round"/>
<line x1="1119.8" y1="943.4" x2="1671.6" y2="943.4" stroke="#14e614" stroke-width="4.9" />
<line x1="1227" y1="832" x2="1281" y2="832" stroke="#f41010" stroke-width="4.8" />
<line x1="1227" y1="859" x2="1281" y2="859" stroke="#14e614" stroke-width="4.8" />
<text x="1291.5" y="839.5" font-size="24" fill="#080808" stroke="#080808" stroke-width="0.55" textLength="47" lengthAdjust="spacingAndGlyphs">1lay</text>
<text x="1290.5" y="867.5" font-size="24" fill="#080808" stroke="#080808" stroke-width="0.55" textLength="48" lengthAdjust="spacingAndGlyphs">2lay</text>
</g>
</svg>
</body>
</html>
